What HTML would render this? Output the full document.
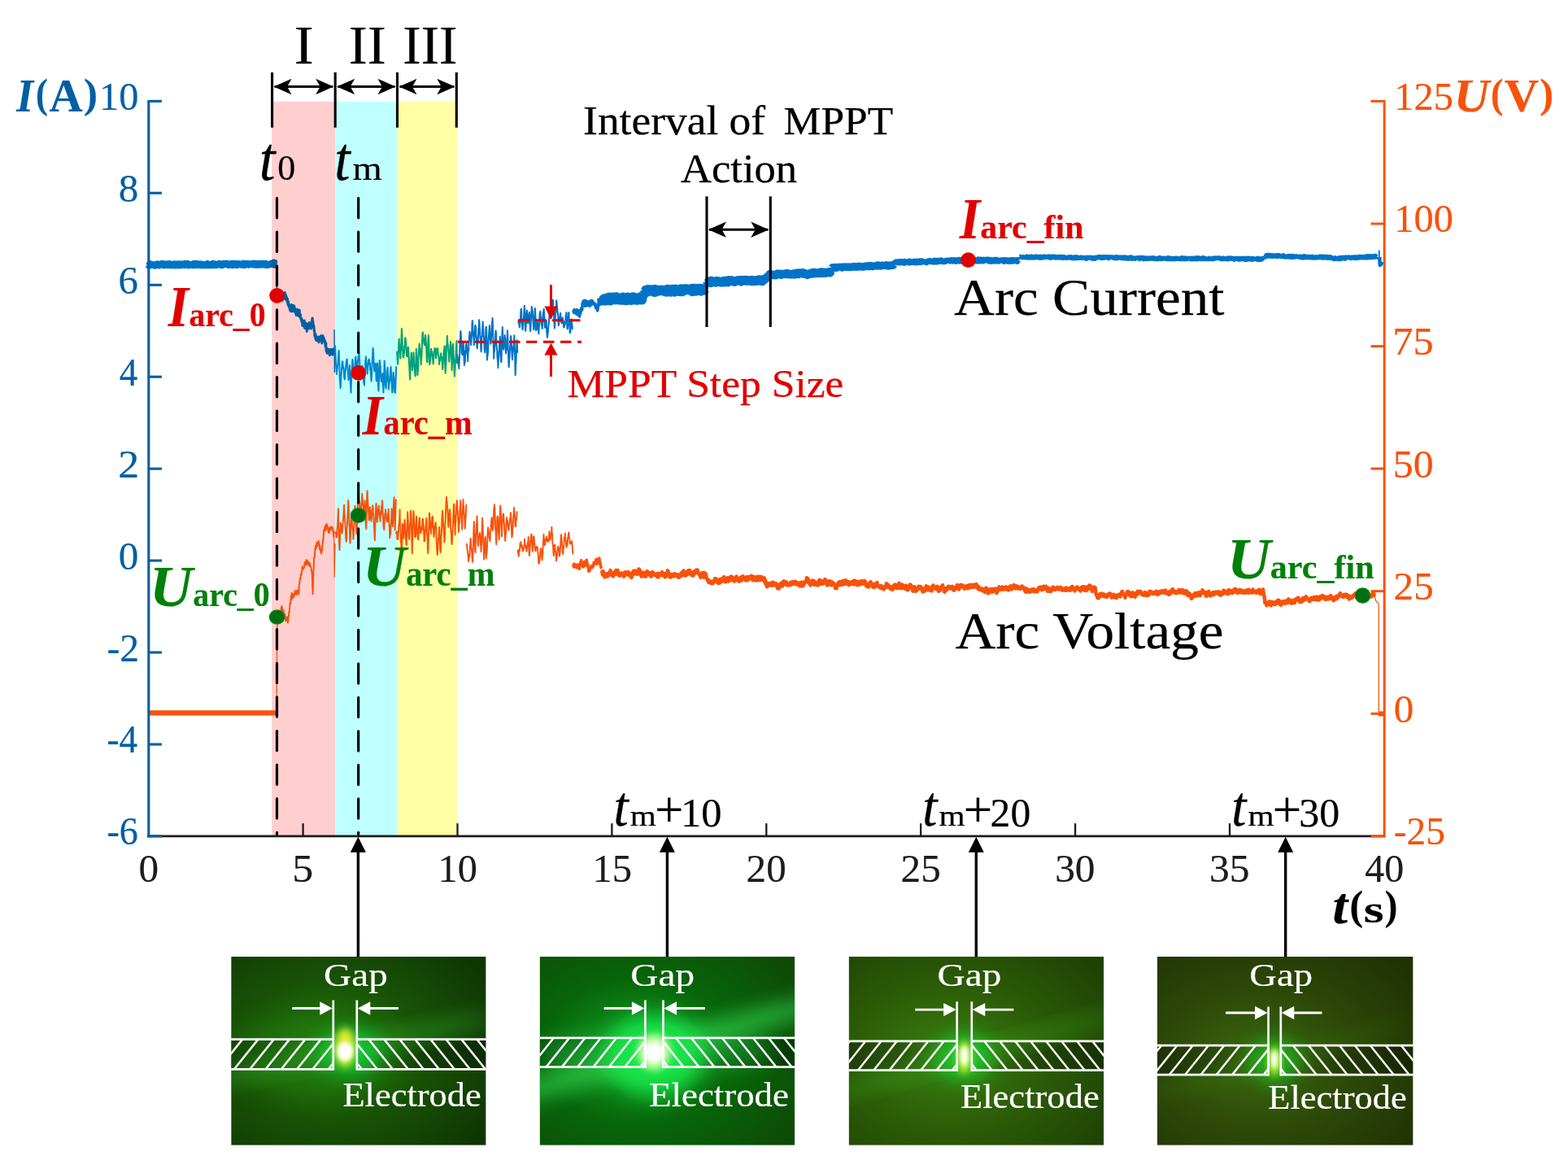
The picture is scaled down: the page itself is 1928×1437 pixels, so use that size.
<!DOCTYPE html>
<html lang="en"><head><meta charset="utf-8"><title>Arc current and arc voltage under MPPT action</title>
<style>
html,body{margin:0;padding:0;background:#fff;}
body{width:1928px;height:1437px;overflow:hidden;font-family:'Liberation Serif','DejaVu Serif',serif;}
svg{display:block;}
text{white-space:pre;}
</style></head><body>
<svg width="1928" height="1437" viewBox="0 0 1928 1437" font-family="'Liberation Serif','DejaVu Serif',serif" role="img" aria-label="Arc current and arc voltage versus time with MPPT action, and arc gap photographs">
<defs>
<marker id="ah" viewBox="0 0 22 20" refX="21" refY="10" markerWidth="22" markerHeight="20" markerUnits="userSpaceOnUse" orient="auto-start-reverse"><path d="M0,0.3 L22,10 L0,19.7 L5.5,10 Z" fill="#000"/></marker>
</defs>
<rect width="1928" height="1437" fill="#fff"/>
<g>
<rect x="334.2" y="124.8" width="78" height="903.2" fill="#ffcfcf"/>
<rect x="412.2" y="124.8" width="75.8" height="903.2" fill="#c0ffff"/>
<rect x="488" y="124.8" width="74" height="903.2" fill="#ffffa6"/>
</g>
<g id="traces">
<polyline points="182.0,325.8 182.5,326.7 183.0,326.3 183.5,324.5 184.0,324.8 184.5,326.6 185.0,323.8 185.5,326.4 186.0,326.3 186.5,325.3 187.0,324.8 187.5,324.7 188.0,324.6 188.5,325.2 189.0,325.4 189.5,325.5 190.0,327.0 190.5,326.3 191.0,325.8 191.5,326.9 192.0,324.4 192.5,324.3 193.0,325.7 193.5,323.9 194.0,323.9 194.5,325.4 195.0,325.2 195.5,326.7 196.0,325.8 196.5,325.4 197.0,325.3 197.5,324.5 198.0,323.8 198.5,324.4 199.0,325.9 199.5,324.4 200.0,324.9 200.5,323.7 201.0,326.4 201.5,324.2 202.0,324.6 202.5,326.5 203.0,325.3 203.5,326.4 204.0,325.8 204.5,326.1 205.0,324.0 205.5,325.4 206.0,325.3 206.5,326.5 207.0,324.9 207.5,325.6 208.0,323.9 208.5,324.9 209.0,324.7 209.5,324.2 210.0,326.3 210.5,324.9 211.0,326.8 211.5,325.6 212.0,325.6 212.5,325.7 213.0,325.8 213.5,324.2 214.0,325.1 214.5,324.4 215.0,325.0 215.5,324.0 216.0,326.8 216.5,324.4 217.0,325.8 217.5,324.6 218.0,326.5 218.5,325.8 219.0,324.1 219.5,326.4 220.0,326.7 220.5,326.5 221.0,325.5 221.5,324.1 222.0,324.3 222.5,326.6 223.0,325.4 223.5,324.2 224.0,326.5 224.5,325.7 225.0,325.5 225.5,324.8 226.0,324.9 226.5,324.4 227.0,323.7 227.5,326.4 228.0,325.1 228.5,325.4 229.0,324.6 229.5,326.0 230.0,323.7 230.5,324.8 231.0,323.7 231.5,324.0 232.0,326.7 232.5,325.7 233.0,325.0 233.5,325.3 234.0,326.4 234.5,324.7 235.0,325.5 235.5,325.8 236.0,324.7 236.5,325.2 237.0,326.0 237.5,326.5 238.0,324.1 238.5,326.6 239.0,323.6 239.5,326.0 240.0,326.2 240.5,324.0 241.0,324.9 241.5,326.2 242.0,323.6 242.5,325.6 243.0,326.1 243.5,325.2 244.0,325.9 244.5,324.3 245.0,324.2 245.5,324.7 246.0,324.1 246.5,324.7 247.0,326.6 247.5,325.4 248.0,324.6 248.5,324.4 249.0,326.6 249.5,325.0 250.0,326.7 250.5,325.2 251.0,325.2 251.5,326.4 252.0,325.9 252.5,325.4 253.0,324.9 253.5,326.3 254.0,324.8 254.5,326.5 255.0,323.7 255.5,324.9 256.0,325.2 256.5,326.5 257.0,324.3 257.5,326.1 258.0,325.7 258.5,325.8 259.0,325.5 259.5,326.6 260.0,324.6 260.5,324.8 261.0,324.1 261.5,323.6 262.0,324.2 262.5,326.4 263.0,326.2 263.5,323.8 264.0,325.4 264.5,325.0 265.0,325.4 265.5,325.6 266.0,324.5 266.5,326.5 267.0,325.0 267.5,325.5 268.0,325.5 268.5,324.0 269.0,323.7 269.5,324.8 270.0,325.9 270.5,326.1 271.0,325.8 271.5,323.8 272.0,326.4 272.5,326.0 273.0,326.3 273.5,325.1 274.0,326.4 274.5,323.6 275.0,323.5 275.5,323.5 276.0,324.2 276.5,324.2 277.0,324.0 277.5,325.2 278.0,323.5 278.5,325.3 279.0,323.9 279.5,325.6 280.0,323.5 280.5,324.4 281.0,326.4 281.5,325.1 282.0,326.0 282.5,325.5 283.0,325.4 283.5,324.0 284.0,325.2 284.5,323.5 285.0,326.0 285.5,326.5 286.0,326.1 286.5,323.6 287.0,324.5 287.5,324.4 288.0,323.7 288.5,325.4 289.0,325.9 289.5,324.4 290.0,326.1 290.5,325.9 291.0,323.8 291.5,325.8 292.0,326.2 292.5,324.0 293.0,325.2 293.5,325.4 294.0,325.3 294.5,323.7 295.0,325.5 295.5,325.4 296.0,326.0 296.5,325.9 297.0,324.4 297.5,325.7 298.0,326.1 298.5,326.2 299.0,323.9 299.5,323.4 300.0,325.4 300.5,324.0 301.0,325.1 301.5,326.4 302.0,324.5 302.5,324.1 303.0,324.8 303.5,325.4 304.0,323.6 304.5,324.5 305.0,323.7 305.5,325.4 306.0,326.0 306.5,324.5 307.0,324.5 307.5,325.0 308.0,324.0 308.5,324.1 309.0,324.4 309.5,324.8 310.0,323.6 310.5,325.7 311.0,325.1 311.5,324.2 312.0,323.5 312.5,325.7 313.0,323.7 313.5,323.7 314.0,323.7 314.5,323.5 315.0,326.2 315.5,324.1 316.0,324.3 316.5,325.9 317.0,325.3 317.5,323.9 318.0,324.7 318.5,326.1 319.0,324.5 319.5,325.5 320.0,323.6 320.5,325.6 321.0,325.7 321.5,325.9 322.0,325.4 322.5,324.4 323.0,323.5 323.5,324.9 324.0,325.7 324.5,323.8 325.0,324.1 325.5,325.0 326.0,325.6 326.5,326.1 327.0,323.6 327.5,323.8 328.0,325.8 328.5,325.3 329.0,325.5 329.5,326.4 330.0,326.2 330.5,325.9 331.0,325.7 331.5,324.5 332.0,325.3 332.5,323.8 333.0,325.6 333.5,325.6 334.0,325.5" fill="none" stroke="#0073c8" stroke-width="7.4" stroke-linejoin="round" stroke-linecap="butt" />
<polyline points="334.4,324.5 335.1,324.2 335.8,324.2 336.5,323.2 337.2,325.1 337.9,324.3 338.6,323.8 339.3,324.1" fill="none" stroke="#005fa2" stroke-width="9.4" stroke-linejoin="round" stroke-linecap="butt" />
<polyline points="339.6,324.0 340.2,345.0 340.6,363.0" fill="none" stroke="#005fa2" stroke-width="1.6" stroke-linejoin="round" stroke-linecap="butt" />
<polyline points="341.0,365.2 341.3,361.9 341.6,365.9 341.9,366.6 342.2,361.8 342.5,359.7 342.8,365.6 343.1,368.0 343.4,360.6 343.7,366.0 344.0,367.2 344.3,367.9 344.6,360.5 344.9,360.4 345.2,369.0 345.5,361.4 345.8,362.2 346.1,365.8 346.4,364.5 346.7,367.5 347.0,362.5 347.3,369.2 347.6,362.7 347.9,367.9 348.2,362.0 348.5,366.3 348.8,362.2 349.1,364.2 349.4,363.5 349.7,366.7 350.0,363.6 350.3,359.4 350.6,367.8 350.9,366.9 351.2,367.7 351.5,362.6 351.8,365.0 352.1,364.8 352.4,365.5 352.7,366.0 353.0,370.9 353.3,367.3 353.6,367.5 353.9,374.1 354.2,371.6 354.5,370.4 354.8,376.4 355.1,373.8 355.4,377.0 355.7,375.6 356.0,378.8 356.3,380.5 356.6,380.2 356.9,379.0 357.2,382.3 357.5,382.5 357.8,375.5 358.1,374.7 358.4,374.5 358.7,383.0 359.0,383.0 359.3,376.4 359.6,382.8 359.9,375.6 360.2,378.1 360.5,378.1 360.8,382.4 361.1,375.4 361.4,379.0 361.7,382.1 362.0,377.1 362.3,378.3 362.6,380.0 362.9,383.8 363.2,383.4 363.5,385.4 363.8,386.0 364.1,386.3 364.4,387.6 364.7,385.7 365.0,385.7 365.3,381.3 365.6,380.1 365.9,385.9 366.2,381.1 366.5,388.2 366.8,385.1 367.1,382.4 367.4,388.1 367.7,381.2 368.0,384.5 368.3,381.2 368.6,389.7 368.9,386.9 369.2,390.2 369.5,386.5 369.8,392.0 370.1,391.4 370.4,391.5 370.7,395.2 371.0,391.7 371.3,393.1 371.6,397.4 371.9,400.3 372.2,396.5 372.5,399.9 372.8,395.9 373.1,399.2 373.4,401.0 373.7,394.3 374.0,400.3 374.3,394.1 374.6,403.4 374.9,399.4 375.2,399.2 375.5,402.2 375.8,400.7 376.1,403.0 376.4,397.3 376.7,402.1 377.0,402.9 377.3,407.5 377.6,400.1 377.9,403.9 378.2,404.9 378.5,403.4 378.8,398.3 379.1,402.3 379.4,398.3 379.7,397.6 380.0,403.4 380.3,396.4 380.6,398.4 380.9,401.2 381.2,401.4 381.5,400.7 381.8,403.5 382.1,400.8 382.4,402.4 382.7,404.0 383.0,402.3 383.3,398.5 383.6,393.3 383.9,391.9 384.2,391.0 384.5,396.2 384.8,394.7 385.1,397.3 385.4,401.8 385.7,400.9 386.0,400.7 386.3,407.2 386.6,405.7 386.9,412.6 387.2,414.0 387.5,412.4 387.8,416.2 388.1,410.8 388.4,414.0 388.7,418.4 389.0,416.1 389.3,416.4 389.6,417.9 389.9,418.7 390.2,418.6 390.5,417.3 390.8,414.7 391.1,414.8 391.4,414.0 391.7,415.2 392.0,420.8 392.3,415.0 392.6,415.7 392.9,414.4 393.2,415.9 393.5,419.1 393.8,418.6 394.1,413.8 394.4,412.7 394.7,418.4 395.0,415.5 395.3,418.4 395.6,414.0 395.9,421.9 396.2,416.4 396.5,416.8 396.8,412.6 397.1,413.8 397.4,417.5 397.7,417.7 398.0,414.7 398.3,418.5 398.6,417.0 398.9,417.7 399.2,420.8 399.5,419.0 399.8,421.1 400.1,425.6 400.4,426.9 400.7,421.4 401.0,429.3 401.3,432.0 401.6,430.5 401.9,428.3 402.2,434.2 402.5,429.8 402.8,433.1 403.1,430.5 403.4,432.9 403.7,429.3 404.0,431.3 404.3,431.8 404.6,433.0 404.9,429.4 405.2,436.8 405.5,431.2 405.8,431.9 406.1,431.5 406.4,429.5 406.7,432.3 407.0,435.1 407.3,434.3 407.6,429.6 407.9,429.4 408.2,431.4 408.5,435.6 408.8,432.7 409.1,436.2 409.4,433.2 409.7,432.4 410.0,433.2 410.3,432.6 410.6,428.7 410.9,428.4 411.2,430.9 411.5,431.7" fill="none" stroke="#005fa2" stroke-width="3.0" stroke-linejoin="round" stroke-linecap="butt" />
<polyline points="411.0,405.0 411.4,458.0" fill="none" stroke="#005fa2" stroke-width="1.4" stroke-linejoin="round" stroke-linecap="butt" />
<polyline points="412.0,424.3 412.3,431.4 412.7,438.7 413.0,446.0 413.3,451.6 413.6,454.7 414.0,459.9 414.3,455.2 414.6,454.5 415.0,449.7 415.3,448.1 415.6,447.2 416.0,439.8 416.3,433.1 416.6,430.9 416.9,437.6 417.3,447.0 417.6,461.3 417.9,467.6 418.3,472.0 418.6,477.1 418.9,473.9 419.3,465.6 419.6,460.1 419.9,456.0 420.2,452.4 420.6,448.1 420.9,444.2 421.2,444.2 421.6,447.6 421.9,451.5 422.2,453.5 422.6,452.2 422.9,458.9 423.2,463.6 423.5,465.8 423.9,466.4 424.2,459.9 424.5,454.9 424.9,456.5 425.2,451.4 425.5,447.0 425.9,445.2 426.2,442.3 426.5,444.2 426.8,441.5 427.2,449.0 427.5,453.1 427.8,455.5 428.2,461.6 428.5,466.9 428.8,460.7 429.2,456.8 429.5,461.3 429.8,453.3 430.1,448.9 430.5,459.5 430.8,468.5 431.1,474.5 431.5,482.8 431.8,473.7 432.1,466.3 432.5,462.2 432.8,456.8 433.1,446.9 433.4,442.0 433.8,442.8 434.1,453.9 434.4,452.2 434.8,462.0 435.1,461.9 435.4,458.2 435.8,456.6 436.1,453.5 436.4,450.8 436.7,445.4 437.1,440.1 437.4,438.5 437.7,442.6 438.1,444.8 438.4,448.8 438.7,449.0 439.1,453.0 439.4,456.8 439.7,450.9 440.0,444.2 440.4,441.5 440.7,437.7 441.0,441.2 441.4,432.8 441.7,436.8 442.0,440.8 442.4,448.8 442.7,452.7 443.0,455.7 443.3,460.8 443.7,466.6 444.0,464.9 444.3,460.7 444.7,459.0 445.0,459.8 445.3,449.5 445.7,450.8 446.0,451.3 446.3,457.8 446.6,463.2 447.0,465.2 447.3,470.9 447.6,469.5 448.0,473.6 448.3,464.3 448.6,461.4 449.0,454.9 449.3,443.4 449.6,441.7 449.9,438.2 450.3,445.1 450.6,447.1 450.9,451.8 451.3,453.0 451.6,459.5 451.9,457.5 452.3,451.2 452.6,448.4 452.9,443.1 453.2,446.4 453.6,447.8 453.9,441.6 454.2,444.0 454.6,446.1 454.9,446.4 455.2,455.1 455.6,453.1 455.9,459.0 456.2,463.6 456.5,468.6 456.9,465.4 457.2,458.2 457.5,448.7 457.9,440.5 458.2,436.5 458.5,427.9 458.9,429.4 459.2,436.1 459.5,444.5 459.8,448.2 460.2,456.2 460.5,452.9 460.8,451.6 461.2,446.9 461.5,448.1 461.8,446.8 462.2,454.9 462.5,464.8 462.8,468.6 463.1,462.4 463.5,459.9 463.8,448.3 464.1,446.4 464.5,455.3 464.8,468.1 465.1,477.0 465.5,480.5 465.8,471.7 466.1,465.3 466.4,455.6 466.8,443.0 467.1,444.7 467.4,449.9 467.8,450.1 468.1,458.7 468.4,465.7 468.8,468.9 469.1,468.8 469.4,468.6 469.7,466.8 470.1,464.4 470.4,458.9 470.7,474.7 471.1,472.3 471.4,482.4 471.7,477.0 472.1,467.1 472.4,455.8 472.7,443.4 473.0,448.7 473.4,452.5 473.7,455.2 474.0,473.0 474.4,476.0 474.7,477.5 475.0,467.8 475.4,469.3 475.7,466.1 476.0,462.6 476.3,455.8 476.7,451.9 477.0,461.0 477.3,463.5 477.7,471.6 478.0,478.8 478.3,472.8 478.7,471.0 479.0,467.4 479.3,468.0 479.6,462.7 480.0,455.7 480.3,454.2 480.6,451.1 481.0,458.9 481.3,468.3 481.6,470.0 482.0,478.5 482.3,482.5 482.6,481.9 482.9,477.1 483.3,463.6 483.6,457.7 483.9,459.2 484.3,462.6 484.6,466.3 484.9,476.1 485.3,482.0 485.6,481.8 485.9,483.1 486.2,479.1 486.6,467.4 486.9,460.6 487.2,450.2" fill="none" stroke="#0088cc" stroke-width="2.0" stroke-linejoin="round" stroke-linecap="butt" />
<polyline points="488.0,431.7 488.3,434.9 488.7,443.0 489.0,447.7 489.3,446.8 489.6,438.3 490.0,430.2 490.3,421.9 490.6,416.4 491.0,422.4 491.3,423.6 491.6,433.0 492.0,433.6 492.3,440.6 492.6,434.9 492.9,427.1 493.3,424.7 493.6,412.2 493.9,403.9 494.3,411.4 494.6,418.6 494.9,430.3 495.3,432.0 495.6,439.5 495.9,439.2 496.2,438.6 496.6,435.8 496.9,434.8 497.2,425.9 497.6,425.4 497.9,421.4 498.2,415.2 498.6,415.6 498.9,419.7 499.2,419.8 499.5,430.9 499.9,435.4 500.2,438.0 500.5,436.3 500.9,438.1 501.2,430.9 501.5,428.1 501.9,426.6 502.2,428.9 502.5,438.2 502.8,442.3 503.2,449.1 503.5,455.4 503.8,461.9 504.2,466.4 504.5,457.4 504.8,450.0 505.2,442.9 505.5,437.3 505.8,433.5 506.1,439.5 506.5,445.5 506.8,449.4 507.1,455.3 507.5,450.8 507.8,450.0 508.1,441.8 508.5,433.3 508.8,437.2 509.1,447.1 509.4,447.9 509.8,451.8 510.1,457.4 510.4,462.0 510.8,462.5 511.1,449.7 511.4,444.9 511.8,428.8 512.1,433.0 512.4,436.6 512.7,450.2 513.1,452.9 513.4,461.0 513.7,458.2 514.1,452.8 514.4,441.5 514.7,437.1 515.1,428.6 515.4,425.8 515.7,422.4 516.0,425.7 516.4,428.7 516.7,433.1 517.0,435.9 517.4,442.4 517.7,448.2 518.0,442.0 518.4,438.1 518.7,429.5 519.0,423.7 519.3,412.7 519.7,408.6 520.0,408.8 520.3,414.9 520.7,416.0 521.0,417.9 521.3,421.8 521.7,423.3 522.0,423.4 522.3,424.6 522.6,418.3 523.0,411.8 523.3,413.1 523.6,419.6 524.0,420.6 524.3,427.4 524.6,438.6 525.0,444.5 525.3,445.2 525.6,437.4 525.9,431.8 526.3,425.1 526.6,415.6 526.9,412.0 527.3,419.5 527.6,430.2 527.9,445.3 528.3,448.1 528.6,446.6 528.9,445.2 529.2,442.4 529.6,436.6 529.9,434.0 530.2,428.7 530.6,434.6 530.9,434.0 531.2,431.9 531.6,436.3 531.9,439.7 532.2,441.2 532.5,446.2 532.9,447.3 533.2,440.6 533.5,437.9 533.9,431.7 534.2,431.7 534.5,428.2 534.9,430.1 535.2,428.5 535.5,428.2 535.8,435.9 536.2,440.5 536.5,435.0 536.8,433.5 537.2,432.2 537.5,431.4 537.8,427.9 538.2,428.7 538.5,435.1 538.8,434.9 539.1,437.6 539.5,438.3 539.8,442.3 540.1,448.0 540.5,442.5 540.8,444.1 541.1,443.9 541.5,439.7 541.8,439.2 542.1,434.3 542.4,437.7 542.8,438.5 543.1,440.6 543.4,440.2 543.8,445.6 544.1,453.9 544.4,452.4 544.8,445.6 545.1,443.9 545.4,435.8 545.7,432.7 546.1,429.1 546.4,426.0 546.7,425.5 547.1,442.0 547.4,454.0 547.7,458.7 548.1,450.6 548.4,446.6 548.7,436.6 549.0,425.0 549.4,424.2 549.7,414.8 550.0,412.8 550.4,423.1 550.7,423.3 551.0,425.9 551.4,432.3 551.7,434.2 552.0,439.4 552.3,444.8 552.7,437.3 553.0,432.2 553.3,431.7 553.7,424.8 554.0,419.8 554.3,421.9 554.7,429.1 555.0,438.7 555.3,443.1 555.6,455.1 556.0,445.7 556.3,439.0 556.6,428.4 557.0,422.7 557.3,427.0 557.6,437.0 558.0,440.3 558.3,449.8 558.6,456.9 558.9,462.6 559.3,456.1 559.6,453.2 559.9,443.6 560.3,441.8 560.6,435.6 560.9,428.0 561.3,421.0 561.6,419.0 561.9,447.1" fill="none" stroke="#00a27c" stroke-width="2.0" stroke-linejoin="round" stroke-linecap="butt" />
<polyline points="562.0,435.1 562.3,436.9 562.7,439.0 563.0,442.4 563.3,445.9 563.7,448.1 564.0,449.3 564.3,452.9 564.6,446.2 565.0,440.6 565.3,429.8 565.6,417.5 566.0,417.3 566.3,407.0 566.6,407.8 567.0,415.8 567.3,420.2 567.6,432.7 567.9,435.2 568.3,435.4 568.6,436.2 568.9,430.3 569.3,431.4 569.6,420.9 569.9,423.0 570.3,435.5 570.6,441.9 570.9,449.0 571.2,445.7 571.6,446.4 571.9,444.0 572.2,431.0 572.6,432.8 572.9,423.8 573.2,425.0 573.6,421.9 573.9,425.0 574.2,432.4 574.5,435.5 574.9,437.6 575.2,443.9 575.5,436.0 575.9,427.9 576.2,431.1 576.5,420.6 576.9,414.8 577.2,411.8 577.5,407.8 577.8,410.3 578.2,414.1 578.5,416.1 578.8,419.5 579.2,423.9 579.5,418.6 579.8,414.1 580.2,407.8 580.5,397.5 580.8,393.9 581.1,395.1 581.5,404.8 581.8,408.8 582.1,413.2 582.5,415.6 582.8,424.2 583.1,418.9 583.5,416.5 583.8,408.9 584.1,401.7 584.4,399.8 584.8,400.7 585.1,402.9 585.4,412.0 585.8,413.9 586.1,419.1 586.4,425.1 586.8,428.3 587.1,424.6 587.4,419.9 587.7,418.3 588.1,412.8 588.4,403.5 588.7,402.2 589.1,393.2 589.4,395.0 589.7,401.4 590.1,405.5 590.4,415.6 590.7,416.4 591.0,419.0 591.4,430.3 591.7,432.3 592.0,425.5 592.4,413.7 592.7,414.6 593.0,407.5 593.4,400.8 593.7,395.6 594.0,402.6 594.3,404.2 594.7,411.9 595.0,413.7 595.3,420.0 595.7,428.6 596.0,432.6 596.3,433.3 596.7,428.2 597.0,418.2 597.3,407.9 597.6,401.6 598.0,402.5 598.3,411.8 598.6,424.5 599.0,442.5 599.3,438.6 599.6,437.1 600.0,432.5 600.3,427.0 600.6,417.3 600.9,413.6 601.3,408.8 601.6,404.4 601.9,400.1 602.3,404.0 602.6,413.9 602.9,419.2 603.3,422.7 603.6,421.7 603.9,418.3 604.2,412.1 604.6,408.2 604.9,398.3 605.2,396.0 605.6,390.9 605.9,398.4 606.2,411.0 606.6,420.3 606.9,429.1 607.2,440.8 607.5,432.9 607.9,431.6 608.2,428.3 608.5,423.6 608.9,421.0 609.2,411.5 609.5,406.4 609.9,407.7 610.2,414.3 610.5,424.1 610.8,426.8 611.2,429.6 611.5,439.2 611.8,441.5 612.2,445.9 612.5,452.3 612.8,442.5 613.2,438.3 613.5,432.8 613.8,430.4 614.1,421.8 614.5,418.6 614.8,413.8 615.1,420.0 615.5,433.1 615.8,440.2 616.1,445.0 616.5,444.8 616.8,432.6 617.1,418.8 617.4,411.7 617.8,402.0 618.1,408.6 618.4,415.3 618.8,423.8 619.1,429.7 619.4,426.5 619.8,418.6 620.1,418.7 620.4,418.9 620.7,412.0 621.1,417.8 621.4,425.0 621.7,430.1 622.1,434.4 622.4,430.2 622.7,429.5 623.1,420.5 623.4,415.9 623.7,413.6 624.0,406.3 624.4,415.5 624.7,429.2 625.0,435.4 625.4,445.2 625.7,451.1 626.0,446.2 626.4,439.8 626.7,435.6 627.0,428.9 627.3,424.5 627.7,420.1 628.0,413.1 628.3,413.6 628.7,418.6 629.0,427.5 629.3,431.6 629.7,438.7 630.0,442.3 630.3,435.8 630.6,434.6 631.0,426.5 631.3,431.1 631.6,425.1 632.0,418.2 632.3,412.3 632.6,420.0 633.0,428.6 633.3,444.4 633.6,461.1 633.9,456.2 634.3,447.5 634.6,443.3 634.9,431.5 635.3,426.9 635.6,418.3 635.9,424.1 636.3,433.7" fill="none" stroke="#0073c8" stroke-width="2.0" stroke-linejoin="round" stroke-linecap="butt" />
<polyline points="637.0,394.0 637.3,394.3 637.7,397.5 638.0,397.6 638.3,396.3 638.7,401.7 639.0,402.4 639.3,398.6 639.6,395.8 640.0,392.4 640.3,386.6 640.6,380.4 641.0,379.6 641.3,390.4 641.6,394.5 642.0,398.6 642.3,402.9 642.6,405.2 642.9,401.3 643.3,396.7 643.6,392.0 643.9,393.8 644.3,385.9 644.6,380.2 644.9,375.9 645.3,385.1 645.6,396.0 645.9,404.2 646.2,406.6 646.6,400.6 646.9,393.4 647.2,385.3 647.6,383.7 647.9,381.5 648.2,391.1 648.6,390.1 648.9,396.8 649.2,397.3 649.5,392.6 649.9,387.9 650.2,386.3 650.5,385.9 650.9,383.9 651.2,386.9 651.5,396.4 651.9,403.6 652.2,407.1 652.5,400.6 652.8,394.2 653.2,389.9 653.5,384.7 653.8,377.1 654.2,379.1 654.5,381.2 654.8,382.7 655.2,387.3 655.5,394.6 655.8,397.9 656.1,404.1 656.5,405.0 656.8,401.9 657.1,396.1 657.5,388.9 657.8,379.1 658.1,383.7 658.5,391.4 658.8,396.3 659.1,406.3 659.4,405.8 659.8,401.2 660.1,404.3 660.4,397.9 660.8,396.1 661.1,397.5 661.4,399.3 661.8,404.3 662.1,406.1 662.4,410.2 662.7,403.6 663.1,398.8 663.4,392.6 663.7,385.5 664.1,383.4 664.4,382.8 664.7,389.0 665.1,389.7 665.4,395.8 665.7,396.6 666.0,399.5 666.4,401.1 666.7,404.0 667.0,400.1 667.4,395.3 667.7,386.8 668.0,384.0 668.4,382.9 668.7,380.1 669.0,384.8 669.3,388.9 669.7,392.5 670.0,402.8 670.3,401.7 670.7,399.4 671.0,399.8 671.3,398.3 671.7,393.7 672.0,402.7 672.3,406.9 672.6,411.4 673.0,414.8 673.3,410.6 673.6,410.5 674.0,405.2 674.3,401.2 674.6,399.4 675.0,395.2 675.3,390.7 675.6,387.4 675.9,391.2 676.3,389.7 676.6,389.5 676.9,389.0 677.3,391.1 677.6,389.2 677.9,388.0 678.3,384.8 678.6,376.7 678.9,377.5 679.2,375.5 679.6,371.4 679.9,368.8 680.2,378.3 680.6,379.5 680.9,383.7 681.2,389.2 681.6,396.7 681.9,403.4 682.2,399.7 682.5,393.7 682.9,386.8 683.2,383.8 683.5,379.3 683.9,376.7 684.2,369.4 684.5,371.7 684.9,376.6 685.2,378.8 685.5,383.7 685.8,384.7 686.2,387.3 686.5,392.6 686.8,399.9 687.2,398.4 687.5,393.6 687.8,395.1 688.2,390.3 688.5,392.2 688.8,388.4 689.1,384.7 689.5,390.5 689.8,391.4 690.1,395.2 690.5,396.6 690.8,397.3 691.1,394.0 691.5,391.3 691.8,390.4 692.1,395.9 692.4,393.8 692.8,394.9 693.1,400.6 693.4,402.5 693.8,401.9 694.1,398.8 694.4,398.7 694.8,398.7 695.1,395.2 695.4,395.8 695.7,387.5 696.1,389.1 696.4,384.0 696.7,392.9 697.1,395.3 697.4,402.6 697.7,404.4 698.1,401.4 698.4,396.2 698.7,391.4 699.0,384.8 699.4,384.3 699.7,391.3 700.0,396.0 700.4,400.2 700.7,408.8 701.0,409.1 701.4,407.7 701.7,399.9 702.0,394.6 702.3,393.9 702.7,392.7 703.0,397.1 703.3,398.3 703.7,403.2 704.0,404.6 704.3,404.6" fill="none" stroke="#0073c8" stroke-width="2.1" stroke-linejoin="round" stroke-linecap="butt" />
<polyline points="705.0,384.2 705.4,381.8 705.8,384.4 706.2,380.4 706.6,383.6 707.0,382.7 707.4,383.2 707.8,384.1 708.2,385.4 708.6,385.1 709.0,381.4 709.4,380.7 709.8,384.0 710.2,386.9 710.6,385.5 711.0,381.7 711.4,381.8 711.8,384.9 712.2,387.7 712.6,389.1 713.0,385.8 713.4,386.2 713.8,385.0 714.2,380.7 714.6,379.1 715.0,382.0 715.4,381.3 715.8,380.7 716.2,372.2 716.6,374.3 717.0,370.5 717.4,372.2 717.8,373.2 718.2,369.3 718.6,375.1 719.0,375.6 719.4,376.2 719.8,369.6 720.2,374.0 720.6,374.3 721.0,375.9 721.4,371.2 721.8,370.4 722.2,375.2 722.6,371.7 723.0,371.0 723.4,371.5 723.8,375.3 724.2,374.6 724.6,376.1 725.0,376.3 725.4,370.1 725.8,375.7 726.2,374.8 726.6,374.8 727.0,373.4 727.4,370.4 727.8,369.3 728.2,373.9 728.6,370.6 729.0,371.0 729.4,372.5 729.8,372.5 730.2,372.7 730.6,372.7 731.0,372.8 731.4,375.7 731.8,374.1 732.2,373.8 732.6,378.8 733.0,378.9 733.4,378.8 733.8,375.9 734.2,375.7 734.6,381.9 735.0,381.2 735.4,375.3 735.8,376.5 736.2,370.9 736.6,372.0 737.0,372.6 737.4,369.1 737.8,372.4 738.2,374.2 738.6,370.1 739.0,374.7" fill="none" stroke="#0073c8" stroke-width="3.5" stroke-linejoin="round" stroke-linecap="butt" />
<polyline points="739.5,365.6 740.2,368.0 740.9,369.4 741.6,369.1 742.3,367.8 743.0,367.2 743.7,369.5 744.4,368.1 745.1,369.4 745.8,368.2 746.5,368.2 747.2,368.2 747.9,365.7 748.6,366.2 749.3,365.4 750.0,369.2 750.7,369.5 751.4,367.7 752.1,365.7 752.8,365.6 753.5,367.0 754.2,366.7 754.9,365.9 755.6,365.4 756.3,367.8 757.0,368.5 757.7,365.2 758.4,366.3 759.1,366.2 759.8,367.3 760.5,367.6 761.2,366.7 761.9,368.7 762.6,366.6 763.3,366.2 764.0,368.2 764.7,368.5 765.4,368.7 766.1,365.5 766.8,365.6 767.5,366.8 768.2,369.0 768.9,367.5 769.6,367.5 770.3,366.2 771.0,369.1 771.7,365.5 772.4,367.1 773.1,367.6 773.8,368.2 774.5,368.2 775.2,366.3 775.9,365.8 776.6,368.9 777.3,367.0 778.0,365.8 778.7,365.2 779.4,368.1 780.1,368.3 780.8,367.0 781.5,366.2 782.2,367.4 782.9,368.8 783.6,367.0 784.3,367.9 785.0,368.3 785.7,367.8 786.4,366.5 787.1,365.2 787.8,367.4 788.5,368.0 789.2,368.6 789.9,365.0 790.6,364.8 791.3,367.1 792.0,367.9" fill="none" stroke="#0073c8" stroke-width="12" stroke-linejoin="round" stroke-linecap="butt" />
<polyline points="792.5,355.8 793.2,357.9 793.9,356.5 794.6,359.5 795.3,356.9 796.0,355.8 796.7,358.6 797.4,356.6 798.1,357.1 798.8,355.9 799.5,356.7 800.2,355.9 800.9,356.4 801.6,357.7 802.3,356.6 803.0,358.0 803.7,359.0 804.4,357.6 805.1,355.4 805.8,359.2 806.5,356.1 807.2,356.7 807.9,357.4 808.6,357.8 809.3,356.6 810.0,357.0 810.7,357.8 811.4,357.1 812.1,356.4 812.8,356.9 813.5,356.8 814.2,356.4 814.9,357.6 815.6,357.2 816.3,356.8 817.0,358.0 817.7,358.4 818.4,357.8 819.1,356.5 819.8,358.9 820.5,355.5 821.2,358.3 821.9,356.8 822.6,356.7 823.3,358.5 824.0,357.7 824.7,359.0 825.4,358.6 826.1,355.5 826.8,357.1 827.5,358.1 828.2,355.4 828.9,357.2 829.6,359.0 830.3,355.9 831.0,355.4 831.7,356.1 832.4,356.3 833.1,356.1 833.8,356.6 834.5,358.2 835.2,356.9 835.9,357.2 836.6,355.3 837.3,355.1 838.0,358.6 838.7,356.2 839.4,358.5 840.1,356.1 840.8,357.3 841.5,357.3 842.2,355.0 842.9,354.9 843.6,356.4 844.3,355.1 845.0,355.8 845.7,355.4 846.4,355.8 847.1,356.4 847.8,355.8 848.5,355.9 849.2,356.4 849.9,357.2 850.6,354.6 851.3,358.4 852.0,356.1 852.7,358.1 853.4,354.4 854.1,354.6 854.8,354.7 855.5,358.0 856.2,356.0 856.9,357.7 857.6,357.1 858.3,354.6 859.0,355.7 859.7,355.5 860.4,356.0 861.1,357.2 861.8,354.5 862.5,357.9 863.2,356.0 863.9,355.6 864.6,356.9 865.3,355.2 866.0,356.9 866.7,355.7 867.4,355.9" fill="none" stroke="#0073c8" stroke-width="11.5" stroke-linejoin="round" stroke-linecap="butt" />
<polyline points="868.5,345.5 869.2,345.5 869.9,347.6 870.6,346.7 871.3,346.2 872.0,347.3 872.7,347.7 873.4,345.3 874.1,347.9 874.8,344.8 875.5,346.7 876.2,345.5 876.9,345.5 877.6,346.2 878.3,346.6 879.0,346.0 879.7,346.9 880.4,347.6 881.1,345.1 881.8,345.3 882.5,346.5 883.2,345.8 883.9,345.5 884.6,346.1 885.3,346.7 886.0,347.3 886.7,347.4 887.4,347.0 888.1,345.5 888.8,347.2 889.5,346.6 890.2,344.9 890.9,347.3 891.6,345.0 892.3,346.4 893.0,346.4 893.7,347.1 894.4,346.3 895.1,347.3 895.8,344.3 896.5,344.2 897.2,344.7 897.9,345.9 898.6,345.4 899.3,344.3 900.0,344.7 900.7,345.9 901.4,345.3 902.1,346.4 902.8,345.4 903.5,346.7 904.2,346.3 904.9,345.5 905.6,345.0 906.3,344.5 907.0,344.8 907.7,344.9 908.4,344.9 909.1,344.3 909.8,345.3 910.5,344.1 911.2,346.5 911.9,345.4 912.6,344.0 913.3,344.7 914.0,344.4 914.7,344.1 915.4,345.1 916.1,344.2 916.8,344.0 917.5,345.8 918.2,344.9 918.9,345.6 919.6,345.0 920.3,345.1 921.0,344.4 921.7,344.8 922.4,344.9 923.1,344.5 923.8,346.0 924.5,344.1 925.2,344.0 925.9,344.4 926.6,345.8 927.3,346.0 928.0,345.0 928.7,344.4 929.4,345.3 930.1,345.8 930.8,343.9 931.5,345.3 932.2,345.4 932.9,344.3 933.6,343.5 934.3,345.0 935.0,343.7 935.7,344.2 936.4,344.7 937.1,346.1 937.8,343.4 938.5,343.2 939.2,344.6 939.9,345.9" fill="none" stroke="#0073c8" stroke-width="10.5" stroke-linejoin="round" stroke-linecap="butt" />
<polyline points="940.0,343.2 940.7,344.1 941.4,341.7 942.1,342.4 942.8,340.4 943.5,341.2 944.2,339.6 944.9,339.6 945.6,337.8 946.3,336.8 947.0,337.1 947.7,337.3 948.4,337.0 949.1,337.0 949.8,338.0 950.5,337.6 951.2,338.7 951.9,337.7 952.6,337.8 953.3,338.3 954.0,338.6 954.7,337.8 955.4,336.3 956.1,337.4 956.8,336.2 957.5,337.8 958.2,336.2 958.9,337.5 959.6,336.4 960.3,338.3 961.0,336.2 961.7,337.7 962.4,337.8 963.1,336.6 963.8,337.5 964.5,336.7 965.2,336.5 965.9,336.4 966.6,335.7 967.3,337.5 968.0,335.8 968.7,336.1 969.4,335.8 970.1,337.8 970.8,337.0 971.5,336.7 972.2,337.0 972.9,337.6 973.6,337.1 974.3,336.8 975.0,336.2 975.7,336.7 976.4,338.0 977.1,336.8 977.8,336.5 978.5,337.6 979.2,335.2 979.9,335.2 980.6,337.2 981.3,337.6 982.0,335.1 982.7,335.0 983.4,334.9 984.1,336.5 984.8,335.2 985.5,336.4 986.2,336.6 986.9,334.8 987.6,337.1 988.3,335.4 989.0,336.2 989.7,335.6 990.4,336.2 991.1,337.4 991.8,337.3 992.5,338.4 993.2,337.4 993.9,337.2 994.6,336.1 995.3,336.1 996.0,336.6 996.7,337.3 997.4,335.1 998.1,336.9 998.8,336.2 999.5,334.7 1000.2,334.4 1000.9,336.8 1001.6,334.9 1002.3,334.5 1003.0,336.0 1003.7,336.1 1004.4,336.6 1005.1,335.5 1005.8,334.9 1006.5,334.9 1007.2,334.5 1007.9,335.7 1008.6,336.5 1009.3,334.1 1010.0,334.9 1010.7,334.7 1011.4,333.9 1012.1,335.3 1012.8,336.4 1013.5,334.4 1014.2,335.6 1014.9,336.0 1015.6,334.2 1016.3,336.0 1017.0,335.5 1017.7,335.2 1018.4,333.9 1019.1,334.0 1019.8,333.5 1020.5,335.7 1021.2,335.4 1021.9,333.3" fill="none" stroke="#0073c8" stroke-width="9.5" stroke-linejoin="round" stroke-linecap="butt" />
<polyline points="1022.5,329.1 1023.2,328.3 1023.9,329.6 1024.6,329.1 1025.3,330.0 1026.0,329.4 1026.7,327.9 1027.4,328.5 1028.1,329.0 1028.8,329.7 1029.5,328.4 1030.2,328.0 1030.9,328.2 1031.6,328.0 1032.3,327.8 1033.0,328.2 1033.7,328.0 1034.4,328.6 1035.1,329.5 1035.8,329.6 1036.5,327.6 1037.2,328.6 1037.9,328.8 1038.6,327.5 1039.3,328.4 1040.0,327.6 1040.7,328.0 1041.4,327.8 1042.1,329.0 1042.8,327.6 1043.5,328.3 1044.2,328.4 1044.9,327.7 1045.6,329.1 1046.3,327.7 1047.0,327.6 1047.7,328.5 1048.4,328.0 1049.1,328.5 1049.8,327.1 1050.5,327.1 1051.2,328.5 1051.9,327.6 1052.6,328.7 1053.3,327.2 1054.0,327.2 1054.7,328.6 1055.4,327.4 1056.1,326.8 1056.8,327.0 1057.5,328.3 1058.2,327.1 1058.9,327.7 1059.6,328.4 1060.3,327.8 1061.0,328.1 1061.7,328.6 1062.4,327.0 1063.1,328.3 1063.8,327.5 1064.5,326.7 1065.2,326.5 1065.9,326.9 1066.6,326.4 1067.3,327.9 1068.0,327.4 1068.7,326.1 1069.4,328.1 1070.1,327.4 1070.8,327.0 1071.5,326.2 1072.2,327.0 1072.9,328.1 1073.6,327.2 1074.3,326.9 1075.0,327.2 1075.7,327.1 1076.4,327.2 1077.1,326.2 1077.8,326.0 1078.5,325.7 1079.2,327.6 1079.9,325.6 1080.6,326.2 1081.3,326.9 1082.0,326.7 1082.7,327.6 1083.4,326.0 1084.1,325.7 1084.8,325.8 1085.5,326.6 1086.2,326.0 1086.9,326.4 1087.6,326.9 1088.3,326.0 1089.0,326.8 1089.7,325.2 1090.4,326.5 1091.1,327.3 1091.8,327.4 1092.5,326.5 1093.2,327.4 1093.9,325.6 1094.6,325.7 1095.3,326.1 1096.0,326.2 1096.7,326.9 1097.4,326.0 1098.1,325.0 1098.8,326.5 1099.5,325.4" fill="none" stroke="#0073c8" stroke-width="8.5" stroke-linejoin="round" stroke-linecap="butt" />
<polyline points="1100.5,323.6 1101.2,322.1 1101.9,322.3 1102.6,321.9 1103.3,322.3 1104.0,322.9 1104.7,322.2 1105.4,321.7 1106.1,322.8 1106.8,323.1 1107.5,321.7 1108.2,322.4 1108.9,321.6 1109.6,321.5 1110.3,322.2 1111.0,322.0 1111.7,323.3 1112.4,321.4 1113.1,322.7 1113.8,322.9 1114.5,322.2 1115.2,322.3 1115.9,321.8 1116.6,321.8 1117.3,321.3 1118.0,323.1 1118.7,321.2 1119.4,321.4 1120.1,322.7 1120.8,322.1 1121.5,322.2 1122.2,321.7 1122.9,321.4 1123.6,322.7 1124.3,321.2 1125.0,321.6 1125.7,322.6 1126.4,321.5 1127.1,323.0 1127.8,321.2 1128.5,322.0 1129.2,322.0 1129.9,321.9 1130.6,322.5 1131.3,320.8 1132.0,321.9 1132.7,322.4 1133.4,320.8 1134.1,321.9 1134.8,321.6 1135.5,321.5 1136.2,321.8 1136.9,321.9 1137.6,322.1 1138.3,322.5 1139.0,321.9 1139.7,322.7 1140.4,321.9 1141.1,321.0 1141.8,320.7 1142.5,320.5 1143.2,321.0 1143.9,320.6 1144.6,321.8 1145.3,321.8 1146.0,321.6 1146.7,321.1 1147.4,321.3 1148.1,320.8 1148.8,322.2 1149.5,320.2 1150.2,320.9 1150.9,321.4 1151.6,320.5 1152.3,322.0 1153.0,321.1 1153.7,320.9 1154.4,320.2 1155.1,320.6 1155.8,321.3 1156.5,320.6 1157.2,320.0 1157.9,321.2 1158.6,320.6 1159.3,321.7 1160.0,321.4 1160.7,321.4 1161.4,321.8 1162.1,321.6 1162.8,320.5 1163.5,321.0 1164.2,320.3 1164.9,320.1 1165.6,320.1 1166.3,319.9 1167.0,320.1 1167.7,320.1 1168.4,321.1 1169.1,320.1 1169.8,319.6 1170.5,320.4 1171.2,319.9 1171.9,321.0 1172.6,319.9 1173.3,320.6 1174.0,319.8 1174.7,320.4 1175.4,321.3 1176.1,320.0 1176.8,320.5 1177.5,320.3 1178.2,319.4 1178.9,319.3 1179.6,321.1 1180.3,320.0 1181.0,320.7 1181.7,320.1 1182.4,321.0 1183.1,319.5 1183.8,320.2 1184.5,320.3 1185.2,320.8 1185.9,319.1 1186.6,319.8 1187.3,320.0 1188.0,320.3 1188.7,319.3 1189.4,320.1 1190.1,320.4 1190.8,320.5 1191.5,319.4 1192.2,319.9 1192.9,319.6 1193.6,319.8 1194.3,319.7 1195.0,321.0 1195.7,319.0 1196.4,321.0 1197.1,319.0 1197.8,319.1 1198.5,319.4 1199.2,319.6 1199.9,320.9 1200.6,320.8 1201.3,321.0 1202.0,319.9 1202.7,319.0 1203.4,320.4 1204.1,321.0 1204.8,319.3 1205.5,320.8 1206.2,319.0 1206.9,320.6 1207.6,320.1 1208.3,321.0 1209.0,321.0 1209.7,319.2 1210.4,320.2 1211.1,319.6 1211.8,320.0 1212.5,319.2 1213.2,319.9 1213.9,320.0 1214.6,319.1 1215.3,320.1 1216.0,321.1 1216.7,319.2 1217.4,321.2 1218.1,320.2 1218.8,319.6 1219.5,321.3 1220.2,320.2 1220.9,320.1 1221.6,320.0 1222.3,321.1 1223.0,319.4 1223.7,319.6 1224.4,319.8 1225.1,319.3 1225.8,321.0 1226.5,320.3 1227.2,320.5 1227.9,321.1 1228.6,320.3 1229.3,319.8 1230.0,320.4 1230.7,320.3 1231.4,319.9 1232.1,319.7 1232.8,320.0 1233.5,320.9 1234.2,319.6 1234.9,321.4 1235.6,319.8 1236.3,319.9 1237.0,319.5 1237.7,320.1 1238.4,320.1 1239.1,320.8 1239.8,321.3 1240.5,319.8 1241.2,321.1 1241.9,320.0 1242.6,320.2 1243.3,319.6 1244.0,321.3 1244.7,320.2 1245.4,320.9 1246.1,319.4 1246.8,320.9 1247.5,319.9 1248.2,320.4 1248.9,320.8 1249.6,319.7 1250.3,320.5 1251.0,321.2 1251.7,319.7 1252.4,320.4" fill="none" stroke="#0073c8" stroke-width="7" stroke-linejoin="round" stroke-linecap="butt" />
<polyline points="1253.5,315.4 1254.2,315.3 1254.9,316.0 1255.6,315.9 1256.3,316.3 1257.0,316.7 1257.7,316.4 1258.4,315.7 1259.1,316.0 1259.8,316.4 1260.5,316.7 1261.2,316.4 1261.9,316.0 1262.6,315.3 1263.3,316.8 1264.0,315.6 1264.7,315.9 1265.4,316.8 1266.1,315.5 1266.8,316.9 1267.5,315.5 1268.2,315.2 1268.9,316.1 1269.6,316.7 1270.3,315.9 1271.0,316.8 1271.7,315.9 1272.4,316.7 1273.1,315.3 1273.8,315.7 1274.5,315.3 1275.2,316.6 1275.9,316.0 1276.6,316.4 1277.3,315.6 1278.0,316.6 1278.7,317.1 1279.4,315.3 1280.1,315.8 1280.8,316.9 1281.5,316.8 1282.2,316.9 1282.9,315.6 1283.6,316.3 1284.3,315.3 1285.0,316.0 1285.7,316.3 1286.4,315.7 1287.1,316.0 1287.8,315.9 1288.5,315.3 1289.2,315.3 1289.9,316.7 1290.6,315.2 1291.3,317.1 1292.0,317.0 1292.7,317.1 1293.4,316.7 1294.1,315.2 1294.8,315.4 1295.5,315.8 1296.2,315.5 1296.9,315.3 1297.6,317.0 1298.3,317.0 1299.0,316.7 1299.7,315.7 1300.4,316.9 1301.1,316.9 1301.8,315.9 1302.5,315.5 1303.2,315.6 1303.9,316.1 1304.6,317.0 1305.3,315.5 1306.0,316.2 1306.7,316.1 1307.4,317.2 1308.1,315.7 1308.8,316.8 1309.5,316.1 1310.2,316.8 1310.9,317.2 1311.6,317.2 1312.3,317.2 1313.0,316.2 1313.7,316.1 1314.4,315.9 1315.1,316.1 1315.8,315.9 1316.5,317.2 1317.2,315.8 1317.9,316.1 1318.6,317.3 1319.3,317.3 1320.0,317.7 1320.7,316.6 1321.4,315.9 1322.1,317.5 1322.8,316.4 1323.5,317.4 1324.2,315.9 1324.9,316.0 1325.6,317.1 1326.3,317.3 1327.0,317.1 1327.7,317.1 1328.4,317.2 1329.1,316.3 1329.8,316.2 1330.5,316.8 1331.2,317.2 1331.9,316.6 1332.6,316.5 1333.3,317.1 1334.0,317.0 1334.7,316.7 1335.4,318.1 1336.1,318.1 1336.8,316.4 1337.5,317.2 1338.2,316.8 1338.9,317.0 1339.6,316.4 1340.3,316.5 1341.0,316.5 1341.7,316.7 1342.4,317.7 1343.1,316.6 1343.8,318.2 1344.5,318.1 1345.2,317.0 1345.9,317.7 1346.6,318.1 1347.3,316.3 1348.0,317.1 1348.7,316.7 1349.4,316.3 1350.1,316.1 1350.8,315.6 1351.5,316.6 1352.2,315.6 1352.9,316.1 1353.6,317.1 1354.3,316.0 1355.0,315.9 1355.7,317.2 1356.4,316.5 1357.1,316.5 1357.8,315.8 1358.5,316.7 1359.2,316.2 1359.9,316.5 1360.6,316.2 1361.3,315.6 1362.0,317.2 1362.7,316.9 1363.4,317.4 1364.1,316.1 1364.8,316.1 1365.5,315.8 1366.2,316.2 1366.9,316.3 1367.6,316.0 1368.3,316.2 1369.0,316.2 1369.7,317.4 1370.4,316.6 1371.1,317.4 1371.8,315.8 1372.5,316.1 1373.2,317.7 1373.9,315.9 1374.6,316.0 1375.3,316.9 1376.0,316.4 1376.7,316.3 1377.4,317.1 1378.1,317.1 1378.8,316.3 1379.5,317.0 1380.2,316.9 1380.9,317.7 1381.6,316.1 1382.3,316.5 1383.0,317.2 1383.7,316.1 1384.4,317.8 1385.1,318.0 1385.8,316.8 1386.5,317.7 1387.2,316.7 1387.9,318.1 1388.6,316.6 1389.3,316.2 1390.0,316.4 1390.7,317.2 1391.4,316.3 1392.1,318.2 1392.8,317.6 1393.5,317.5 1394.2,317.6 1394.9,317.2 1395.6,318.2 1396.3,317.8 1397.0,317.3 1397.7,317.0 1398.4,316.7 1399.1,317.1 1399.8,317.2 1400.5,316.7 1401.2,318.4 1401.9,317.0 1402.6,317.6 1403.3,316.6 1404.0,317.6 1404.7,317.8 1405.4,316.7 1406.1,318.5 1406.8,316.9 1407.5,317.1 1408.2,318.0 1408.9,317.2 1409.6,318.3 1410.3,317.0 1411.0,317.2 1411.7,317.9 1412.4,318.3 1413.1,318.3 1413.8,317.1 1414.5,317.6 1415.2,317.4 1415.9,317.9 1416.6,317.0 1417.3,318.2 1418.0,318.0 1418.7,316.9 1419.4,317.2 1420.1,317.2 1420.8,318.4 1421.5,317.5 1422.2,317.8 1422.9,318.4 1423.6,317.4 1424.3,318.5 1425.0,317.2 1425.7,316.6 1426.4,316.8 1427.1,318.0 1427.8,317.4 1428.5,318.3 1429.2,317.7 1429.9,318.0 1430.6,317.3 1431.3,317.8 1432.0,318.0 1432.7,317.4 1433.4,317.6 1434.1,318.3 1434.8,318.5 1435.5,317.3 1436.2,316.8 1436.9,318.3 1437.6,317.5 1438.3,318.6 1439.0,318.2 1439.7,317.4 1440.4,318.4 1441.1,317.7 1441.8,318.1 1442.5,318.4 1443.2,317.8 1443.9,318.6 1444.6,317.5 1445.3,317.4 1446.0,318.0 1446.7,317.5 1447.4,318.1 1448.1,317.7 1448.8,318.2 1449.5,318.3 1450.2,317.8 1450.9,318.5 1451.6,318.3 1452.3,318.4 1453.0,316.7 1453.7,316.7 1454.4,318.0 1455.1,317.4 1455.8,318.5 1456.5,317.5 1457.2,318.2 1457.9,317.2 1458.6,318.0 1459.3,318.5 1460.0,318.4 1460.7,317.5 1461.4,317.7 1462.1,317.8 1462.8,317.4 1463.5,317.7 1464.2,318.7 1464.9,318.5 1465.6,317.4 1466.3,318.1 1467.0,318.6 1467.7,317.5 1468.4,318.5 1469.1,318.4 1469.8,318.5 1470.5,316.9 1471.2,318.6 1471.9,318.7 1472.6,317.3 1473.3,318.0 1474.0,317.0 1474.7,318.0 1475.4,318.2 1476.1,318.3 1476.8,318.5 1477.5,317.4 1478.2,317.0 1478.9,318.4 1479.6,316.8 1480.3,317.3 1481.0,317.3 1481.7,318.4 1482.4,317.7 1483.1,318.5 1483.8,318.2 1484.5,318.5 1485.2,318.4 1485.9,318.6 1486.6,317.4 1487.3,317.6 1488.0,318.1 1488.7,318.0 1489.4,318.4 1490.1,318.5 1490.8,317.5 1491.5,317.1 1492.2,318.4 1492.9,318.3 1493.6,317.5 1494.3,317.0 1495.0,317.0 1495.7,317.4 1496.4,317.5 1497.1,317.4 1497.8,317.0 1498.5,317.3 1499.2,317.7 1499.9,317.1 1500.6,317.4 1501.3,317.8 1502.0,318.7 1502.7,318.7 1503.4,317.8 1504.1,317.2 1504.8,317.5 1505.5,318.4 1506.2,317.8 1506.9,318.2 1507.6,318.5 1508.3,318.3 1509.0,318.8 1509.7,317.2 1510.4,317.6 1511.1,317.1 1511.8,318.1 1512.5,318.3 1513.2,317.6 1513.9,317.2 1514.6,318.0 1515.3,317.4 1516.0,317.5 1516.7,317.9 1517.4,319.0 1518.1,317.8 1518.8,318.5 1519.5,317.9 1520.2,317.9 1520.9,317.4 1521.6,317.5 1522.3,318.7 1523.0,318.0 1523.7,317.7 1524.4,319.1 1525.1,318.9 1525.8,317.7 1526.5,318.0 1527.2,318.3 1527.9,317.5 1528.6,318.0 1529.3,317.8 1530.0,318.8 1530.7,317.4 1531.4,319.2 1532.1,317.7 1532.8,317.9 1533.5,317.4 1534.2,319.1 1534.9,318.9 1535.6,317.4 1536.3,318.3 1537.0,318.0 1537.7,318.5 1538.4,317.9 1539.1,319.2 1539.8,317.7 1540.5,318.9 1541.2,317.8 1541.9,318.6 1542.6,318.2 1543.3,318.4 1544.0,318.4 1544.7,318.6 1545.4,317.5 1546.1,317.4 1546.8,319.3 1547.5,317.8 1548.2,318.1 1548.9,317.8 1549.6,318.6 1550.3,319.3 1551.0,318.2 1551.7,318.0 1552.4,318.1 1553.1,317.4 1553.8,317.6 1554.5,317.5" fill="none" stroke="#0073c8" stroke-width="5.6" stroke-linejoin="round" stroke-linecap="butt" />
<polyline points="1555.5,314.6 1556.2,315.8 1556.9,314.0 1557.6,314.7 1558.3,313.9 1559.0,313.5 1559.7,314.9 1560.4,313.5 1561.1,313.5 1561.8,314.9 1562.5,313.8 1563.2,313.7 1563.9,315.2 1564.6,313.8 1565.3,315.1 1566.0,314.1 1566.7,314.6 1567.4,314.1 1568.1,314.2 1568.8,315.4 1569.5,315.4 1570.2,314.0 1570.9,315.1 1571.6,313.9 1572.3,314.3 1573.0,313.9 1573.7,315.0 1574.4,315.2 1575.1,315.3 1575.8,315.4 1576.5,314.6 1577.2,314.2 1577.9,313.9 1578.6,314.8 1579.3,315.8 1580.0,314.9 1580.7,315.3 1581.4,315.9 1582.1,315.8 1582.8,315.6 1583.5,315.3 1584.2,314.6 1584.9,315.7 1585.6,315.1 1586.3,315.7 1587.0,314.7 1587.7,316.2 1588.4,314.7 1589.1,315.9 1589.8,316.2 1590.5,314.7 1591.2,316.2 1591.9,315.8 1592.6,315.7 1593.3,315.0 1594.0,315.2 1594.7,315.1 1595.4,315.5 1596.1,315.9 1596.8,316.1 1597.5,316.1 1598.2,315.4 1598.9,315.4 1599.6,316.3 1600.3,316.8 1601.0,315.3 1601.7,315.6 1602.4,315.4 1603.1,316.8 1603.8,314.9 1604.5,316.6 1605.2,316.4 1605.9,315.5 1606.6,316.2 1607.3,315.6 1608.0,316.2 1608.7,315.7 1609.4,316.7 1610.1,315.8 1610.8,316.5 1611.5,316.1 1612.2,315.7 1612.9,316.9 1613.6,315.3 1614.3,316.8 1615.0,316.9 1615.7,316.7 1616.4,316.2 1617.1,316.2 1617.8,316.9 1618.5,315.9 1619.2,316.7 1619.9,316.6 1620.6,316.7 1621.3,315.9 1622.0,316.3 1622.7,315.2 1623.4,315.2 1624.1,315.3 1624.8,316.5 1625.5,315.8 1626.2,316.9 1626.9,315.3 1627.6,315.5 1628.3,316.8 1629.0,316.0 1629.7,315.6 1630.4,316.7 1631.1,315.6 1631.8,317.1 1632.5,315.7 1633.2,316.9 1633.9,316.1 1634.6,317.1 1635.3,315.8 1636.0,317.1 1636.7,316.1 1637.4,316.7 1638.1,317.4 1638.8,317.6 1639.5,318.1 1640.2,318.4 1640.9,317.5 1641.6,316.9 1642.3,318.3 1643.0,318.0 1643.7,317.9 1644.4,317.7 1645.1,318.5 1645.8,317.2 1646.5,318.4 1647.2,316.8 1647.9,317.8 1648.6,318.3 1649.3,316.7 1650.0,317.8 1650.7,316.8 1651.4,316.4 1652.1,317.1 1652.8,317.6 1653.5,316.7 1654.2,318.0 1654.9,316.1 1655.6,316.6 1656.3,316.7 1657.0,316.7 1657.7,316.5 1658.4,316.0 1659.1,316.3 1659.8,316.4 1660.5,317.2 1661.2,316.5 1661.9,317.2 1662.6,316.6 1663.3,316.4 1664.0,316.0 1664.7,316.1 1665.4,317.4 1666.1,316.5 1666.8,316.2 1667.5,315.9 1668.2,317.2 1668.9,316.8 1669.6,316.8 1670.3,317.0 1671.0,315.8 1671.7,316.8 1672.4,315.4 1673.1,316.6 1673.8,315.9 1674.5,316.5 1675.2,315.6 1675.9,315.8 1676.6,316.4 1677.3,316.9 1678.0,315.7 1678.7,315.3 1679.4,315.2 1680.1,316.3 1680.8,316.7 1681.5,314.9 1682.2,315.5 1682.9,315.1 1683.6,316.7 1684.3,315.0 1685.0,314.8 1685.7,316.2 1686.4,316.6 1687.1,316.2 1687.8,314.8 1688.5,315.4 1689.2,315.6 1689.9,316.3 1690.6,316.0 1691.3,314.5 1692.0,315.3 1692.7,315.9 1693.4,315.4" fill="none" stroke="#0073c8" stroke-width="5.6" stroke-linejoin="round" stroke-linecap="butt" />
<polyline points="1695.8,316.0 1695.8,307.5" fill="none" stroke="#0073c8" stroke-width="1.8" stroke-linejoin="round" stroke-linecap="butt" />
<polyline points="1696.2,316.0 1696.8,326.0 1699.0,324.0 1700.5,325.0" fill="none" stroke="#0073c8" stroke-width="4.5" stroke-linejoin="round" stroke-linecap="butt" />
<polyline points="182.0,876.4 340.0,876.4" fill="none" stroke="#f8520a" stroke-width="6.4" stroke-linejoin="round" stroke-linecap="butt" />
<polyline points="340.2,876.0 340.6,790.0 341.0,760.0" fill="none" stroke="#f8520a" stroke-width="1.3" stroke-linejoin="round" stroke-linecap="butt" />
<polyline points="341.0,760.7 341.4,762.9 341.8,762.6 342.2,760.5 342.6,757.1 343.0,753.5 343.4,751.1 343.8,750.5 344.2,753.5 344.6,754.1 345.0,753.9 345.4,753.1 345.8,746.9 346.2,746.1 346.6,744.9 347.0,747.8 347.4,751.7 347.8,751.7 348.2,750.9 348.6,750.3 349.0,756.4 349.4,757.7 349.8,757.5 350.2,754.8 350.6,756.6 351.0,759.4 351.4,763.3 351.8,759.6 352.2,761.3 352.6,758.6 353.0,758.5 353.4,760.9 353.8,765.5 354.2,763.6 354.6,759.5 355.0,756.1 355.4,752.2 355.8,752.9 356.2,747.9 356.6,741.5 357.0,742.2 357.4,741.9 357.8,732.8 358.2,737.1 358.6,728.9 359.0,730.4 359.4,735.2 359.8,735.4 360.2,730.2 360.6,734.6 361.0,733.9 361.4,731.6 361.8,732.8 362.2,730.1 362.6,726.1 363.0,728.1 363.4,730.4 363.8,730.5 364.2,730.0 364.6,731.1 365.0,726.4 365.4,725.5 365.8,725.2 366.2,729.1 366.6,727.5 367.0,730.6 367.4,728.5 367.8,719.0 368.2,717.2 368.6,713.5 369.0,710.7 369.4,711.5 369.8,708.2 370.2,705.3 370.6,707.0 371.0,702.9 371.4,702.2 371.8,696.2 372.2,698.1 372.6,697.7 373.0,699.2 373.4,698.6 373.8,697.7 374.2,697.3 374.6,691.1 375.0,694.0 375.4,692.1 375.8,692.3 376.2,690.4 376.6,688.3 377.0,694.2 377.4,692.9 377.8,693.2 378.2,689.2 378.6,692.3 379.0,692.6 379.4,691.0 379.8,694.8 380.2,695.6 380.6,691.8 381.0,692.8 381.4,695.0 381.8,696.1 382.2,697.5 382.6,698.0 383.0,701.9 383.4,703.0 383.8,706.1 384.2,717.4 384.6,730.3 385.0,718.4 385.4,702.2 385.8,696.1 386.2,685.5 386.6,684.6 387.0,684.6 387.4,674.2 387.8,675.5 388.2,670.8 388.6,674.2 389.0,673.0 389.4,666.9 389.8,670.5 390.2,671.3 390.6,666.4 391.0,668.7 391.4,665.1 391.8,665.2 392.2,667.3 392.6,668.6 393.0,675.0 393.4,671.5 393.8,674.7 394.2,676.7 394.6,679.0 395.0,680.6 395.4,677.0 395.8,677.7 396.2,670.3 396.6,670.6 397.0,663.3 397.4,664.2 397.8,658.4 398.2,651.7 398.6,654.3 399.0,649.9 399.4,649.3 399.8,646.3 400.2,652.1 400.6,648.7 401.0,650.4 401.4,643.9 401.8,647.6 402.2,645.2 402.6,646.8 403.0,649.1 403.4,652.1 403.8,654.2 404.2,649.8 404.6,655.3 405.0,649.8 405.4,648.3 405.8,649.5 406.2,648.7 406.6,651.6 407.0,649.5 407.4,647.5 407.8,649.6 408.2,650.0 408.6,648.0 409.0,649.5 409.4,653.6 409.8,652.6 410.2,660.1" fill="none" stroke="#f8520a" stroke-width="2.0" stroke-linejoin="round" stroke-linecap="butt" />
<polyline points="410.6,652.0 411.2,709.0 412.0,668.0" fill="none" stroke="#f8520a" stroke-width="1.3" stroke-linejoin="round" stroke-linecap="butt" />
<polyline points="412.0,653.6 412.3,654.9 412.7,655.0 413.0,654.2 413.3,657.8 413.6,660.9 414.0,659.7 414.3,659.9 414.6,649.3 415.0,647.3 415.3,641.3 415.6,632.6 416.0,625.2 416.3,640.7 416.6,649.7 416.9,664.1 417.3,673.6 417.6,676.2 417.9,666.3 418.3,655.9 418.6,651.2 418.9,642.8 419.3,645.7 419.6,645.4 419.9,647.6 420.2,652.7 420.6,655.8 420.9,653.1 421.2,649.0 421.6,643.0 421.9,639.0 422.2,634.7 422.6,629.0 422.9,623.8 423.2,620.6 423.5,632.2 423.9,633.5 424.2,639.6 424.5,645.9 424.9,653.3 425.2,660.5 425.5,664.1 425.9,665.8 426.2,662.9 426.5,650.7 426.8,646.9 427.2,638.6 427.5,632.7 427.8,625.8 428.2,615.0 428.5,620.0 428.8,626.3 429.2,634.9 429.5,644.5 429.8,647.6 430.1,660.1 430.5,667.8 430.8,662.6 431.1,653.1 431.5,646.6 431.8,637.4 432.1,630.6 432.5,631.6 432.8,639.9 433.1,647.1 433.4,648.1 433.8,652.5 434.1,653.5 434.4,662.7 434.8,658.5 435.1,654.3 435.4,645.1 435.8,634.9 436.1,631.5 436.4,621.7 436.7,628.1 437.1,634.6 437.4,639.5 437.7,644.6 438.1,652.3 438.4,656.2 438.7,655.1 439.1,643.4 439.4,631.4 439.7,623.0 440.0,613.2 440.4,604.3 440.7,607.4 441.0,605.9 441.4,614.6 441.7,614.2 442.0,621.5 442.4,627.4 442.7,628.4 443.0,630.8 443.3,631.3 443.7,627.3 444.0,623.1 444.3,617.9 444.7,620.7 445.0,612.1 445.3,607.0 445.7,614.1 446.0,617.1 446.3,620.4 446.6,629.4 447.0,632.6 447.3,639.3 447.6,634.0 448.0,623.0 448.3,619.2 448.6,615.1 449.0,620.7 449.3,629.4 449.6,641.4 449.9,646.7 450.3,650.3 450.6,638.3 450.9,623.8 451.3,606.9 451.6,603.3 451.9,609.4 452.3,614.7 452.6,621.8 452.9,624.5 453.2,630.9 453.6,638.1 453.9,639.5 454.2,638.2 454.6,631.7 454.9,623.2 455.2,625.1 455.6,627.6 455.9,628.5 456.2,637.8 456.5,640.8 456.9,637.5 457.2,633.4 457.5,632.6 457.9,627.4 458.2,621.2 458.5,623.2 458.9,629.9 459.2,632.7 459.5,639.2 459.8,645.2 460.2,650.4 460.5,658.1 460.8,664.4 461.2,655.6 461.5,643.2 461.8,631.9 462.2,621.2 462.5,618.9 462.8,621.6 463.1,630.5 463.5,636.2 463.8,641.7 464.1,637.4 464.5,633.8 464.8,630.8 465.1,625.2 465.5,625.7 465.8,621.8 466.1,625.9 466.4,630.2 466.8,634.8 467.1,635.8 467.4,640.6 467.8,635.5 468.1,630.9 468.4,628.3 468.8,632.7 469.1,622.0 469.4,623.8 469.7,622.8 470.1,615.3 470.4,624.8 470.7,631.6 471.1,635.8 471.4,645.3 471.7,647.7 472.1,651.0 472.4,651.1 472.7,643.6 473.0,636.4 473.4,631.1 473.7,633.7 474.0,626.3 474.4,630.3 474.7,631.7 475.0,636.3 475.4,638.3 475.7,640.6 476.0,641.5 476.3,641.3 476.7,636.6 477.0,632.8 477.3,630.5 477.7,625.8 478.0,635.1 478.3,639.7 478.7,646.1 479.0,650.9 479.3,661.4 479.6,658.6 480.0,656.8 480.3,655.2 480.6,646.5 481.0,642.4 481.3,633.3 481.6,625.3 482.0,630.1 482.3,634.1 482.6,641.4 482.9,646.9 483.3,639.8 483.6,631.7 483.9,623.2 484.3,613.9 484.6,611.3 484.9,626.4 485.3,639.2 485.6,651.4 485.9,646.2 486.2,636.2 486.6,620.2 486.9,613.5" fill="none" stroke="#f8520a" stroke-width="1.9" stroke-linejoin="round" stroke-linecap="butt" />
<polyline points="487.0,653.8 487.3,655.7 487.7,653.2 488.0,655.8 488.3,662.5 488.6,660.3 489.0,663.2 489.3,663.1 489.6,656.5 490.0,653.7 490.3,646.3 490.6,644.3 491.0,641.6 491.3,635.4 491.6,626.4 491.9,640.7 492.3,647.5 492.6,653.4 492.9,666.5 493.3,667.6 493.6,683.4 493.9,678.0 494.3,672.1 494.6,657.7 494.9,643.9 495.2,644.7 495.6,650.3 495.9,655.7 496.2,661.7 496.6,655.9 496.9,652.9 497.2,647.2 497.6,638.9 497.9,641.5 498.2,646.9 498.5,656.2 498.9,661.9 499.2,664.0 499.5,668.7 499.9,669.9 500.2,655.0 500.5,650.3 500.9,639.7 501.2,629.3 501.5,635.0 501.8,641.0 502.2,651.3 502.5,659.7 502.8,661.0 503.2,663.1 503.5,657.8 503.8,648.9 504.2,642.7 504.5,642.6 504.8,632.7 505.1,627.8 505.5,632.6 505.8,644.1 506.1,654.2 506.5,668.2 506.8,680.4 507.1,667.7 507.5,655.6 507.8,649.0 508.1,635.9 508.4,628.0 508.8,631.4 509.1,641.1 509.4,644.1 509.8,648.3 510.1,659.6 510.4,660.3 510.8,660.2 511.1,658.2 511.4,649.6 511.7,638.0 512.1,634.8 512.4,645.1 512.7,647.8 513.1,651.2 513.4,658.1 513.7,660.7 514.1,662.5 514.4,663.4 514.7,653.7 515.0,646.5 515.4,639.4 515.7,636.5 516.0,637.6 516.4,644.9 516.7,647.3 517.0,654.5 517.4,655.6 517.7,655.2 518.0,649.6 518.3,648.8 518.7,650.1 519.0,651.4 519.3,640.2 519.7,637.8 520.0,637.9 520.3,642.3 520.7,646.0 521.0,653.9 521.3,656.4 521.6,665.4 522.0,665.4 522.3,663.2 522.6,655.4 523.0,651.3 523.3,648.9 523.6,646.4 524.0,641.1 524.3,636.9 524.6,646.4 524.9,654.8 525.3,658.3 525.6,664.0 525.9,675.1 526.3,680.3 526.6,672.2 526.9,661.0 527.3,650.0 527.6,641.1 527.9,630.6 528.2,631.6 528.6,637.3 528.9,642.5 529.2,651.0 529.6,651.0 529.9,656.1 530.2,650.4 530.6,650.3 530.9,643.1 531.2,637.2 531.5,635.3 531.9,634.8 532.2,638.3 532.5,647.3 532.9,650.2 533.2,657.0 533.5,660.4 533.9,656.7 534.2,652.4 534.5,646.8 534.8,647.8 535.2,643.6 535.5,642.1 535.8,643.9 536.2,649.5 536.5,656.1 536.8,667.1 537.2,675.7 537.5,679.6 537.8,682.1 538.1,679.7 538.5,670.4 538.8,666.9 539.1,660.7 539.5,661.0 539.8,654.4 540.1,648.0 540.5,650.9 540.8,661.9 541.1,672.0 541.4,676.8 541.8,679.1 542.1,673.7 542.4,661.8 542.8,656.7 543.1,649.9 543.4,638.9 543.8,630.6 544.1,627.8 544.4,632.6 544.7,637.9 545.1,644.4 545.4,649.9 545.7,652.8 546.1,658.8 546.4,666.6 546.7,664.8 547.1,657.0 547.4,643.8 547.7,639.7 548.0,630.8 548.4,620.9 548.7,614.0 549.0,610.9 549.4,617.8 549.7,616.6 550.0,625.4 550.4,629.1 550.7,634.4 551.0,643.0 551.3,648.0 551.7,643.3 552.0,639.5 552.3,635.3 552.7,626.4 553.0,626.2 553.3,628.2 553.7,634.9 554.0,641.5 554.3,650.8 554.6,652.9 555.0,658.0 555.3,668.3 555.6,669.1 556.0,663.8 556.3,654.9 556.6,653.1 557.0,644.0 557.3,637.1 557.6,628.9 557.9,620.7 558.3,619.6 558.6,627.8 558.9,638.7 559.3,646.2 559.6,657.6 559.9,646.5 560.3,641.0 560.6,633.7 560.9,632.8 561.2,621.0 561.6,619.3 561.9,615.2 562.2,618.7 562.6,627.5 562.9,628.3 563.2,639.0 563.6,643.1 563.9,654.0 564.2,652.9 564.5,645.1 564.9,642.8 565.2,635.5 565.5,627.7 565.9,621.8 566.2,615.2 566.5,622.8 566.9,632.8 567.2,631.7 567.5,639.3 567.8,642.4 568.2,650.7 568.5,643.6 568.8,632.9 569.2,620.3 569.5,613.9 569.8,620.5 570.2,622.6 570.5,629.7 570.8,632.6 571.1,634.7 571.5,644.9 571.8,649.8 572.1,644.5 572.5,638.4 572.8,633.2 573.1,624.6 573.5,619.9" fill="none" stroke="#f8520a" stroke-width="1.9" stroke-linejoin="round" stroke-linecap="butt" />
<polyline points="574.0,668.1 574.3,672.7 574.7,675.8 575.0,678.5 575.3,680.5 575.7,684.7 576.0,690.2 576.3,688.9 576.6,685.7 577.0,681.8 577.3,684.5 577.6,678.8 578.0,672.7 578.3,669.0 578.6,661.9 579.0,665.0 579.3,670.1 579.6,674.1 579.9,676.1 580.3,680.4 580.6,687.1 580.9,690.8 581.3,688.1 581.6,681.1 581.9,672.0 582.3,656.2 582.6,646.6 582.9,641.2 583.2,654.3 583.6,658.4 583.9,666.5 584.2,676.9 584.6,679.4 584.9,665.8 585.2,657.2 585.6,653.8 585.9,646.2 586.2,642.3 586.5,634.4 586.9,643.5 587.2,656.1 587.5,667.5 587.9,671.1 588.2,669.8 588.5,661.4 588.9,660.0 589.2,658.8 589.5,658.1 589.8,655.0 590.2,656.9 590.5,659.2 590.8,667.0 591.2,670.9 591.5,678.2 591.8,671.7 592.2,667.1 592.5,652.5 592.8,645.5 593.1,636.8 593.5,644.4 593.8,651.8 594.1,660.7 594.5,670.0 594.8,677.3 595.1,687.8 595.5,680.7 595.8,674.8 596.1,671.7 596.4,663.0 596.8,660.0 597.1,668.1 597.4,676.8 597.8,686.3 598.1,682.5 598.4,681.0 598.8,676.1 599.1,669.5 599.4,660.1 599.7,651.9 600.1,648.5 600.4,650.0 600.7,653.8 601.1,654.0 601.4,656.0 601.7,662.1 602.1,659.6 602.4,665.5 602.7,661.6 603.0,653.2 603.4,653.0 603.7,647.6 604.0,643.2 604.4,637.6 604.7,636.2 605.0,644.1 605.4,645.9 605.7,651.0 606.0,651.9 606.3,649.9 606.7,642.6 607.0,632.6 607.3,625.5 607.7,623.3 608.0,620.2 608.3,625.0 608.7,634.0 609.0,642.8 609.3,652.6 609.6,654.0 610.0,664.5 610.3,669.3 610.6,657.1 611.0,652.2 611.3,635.6 611.6,636.1 612.0,634.8 612.3,636.1 612.6,647.1 612.9,652.9 613.3,658.4 613.6,663.4 613.9,657.1 614.3,645.4 614.6,635.8 614.9,626.4 615.3,621.4 615.6,626.3 615.9,634.3 616.2,643.0 616.6,648.8 616.9,659.5 617.2,655.1 617.6,643.8 617.9,641.0 618.2,635.4 618.6,631.7 618.9,631.5 619.2,632.6 619.5,637.5 619.9,644.2 620.2,651.6 620.5,654.1 620.9,659.2 621.2,664.9 621.5,659.7 621.9,655.4 622.2,652.2 622.5,643.7 622.8,642.0 623.2,635.9 623.5,640.1 623.8,641.9 624.2,640.1 624.5,647.5 624.8,644.2 625.2,651.5 625.5,651.6 625.8,648.6 626.1,645.2 626.5,644.2 626.8,641.9 627.1,637.5 627.5,637.3 627.8,630.2 628.1,630.9 628.5,639.0 628.8,643.0 629.1,655.9 629.4,660.6 629.8,658.5 630.1,656.1 630.4,650.4 630.8,646.3 631.1,636.8 631.4,634.5 631.8,628.0 632.1,623.9 632.4,629.1 632.7,631.7 633.1,634.4 633.4,641.7 633.7,647.1 634.1,647.3 634.4,643.1 634.7,637.1 635.1,638.8 635.4,635.0 635.7,628.4" fill="none" stroke="#f8520a" stroke-width="1.9" stroke-linejoin="round" stroke-linecap="butt" />
<polyline points="636.5,675.7 636.8,679.2 637.2,680.2 637.5,680.8 637.8,683.9 638.2,678.7 638.5,676.7 638.8,674.7 639.1,677.1 639.5,667.7 639.8,670.2 640.1,668.6 640.5,666.3 640.8,672.0 641.1,671.3 641.5,672.0 641.8,670.4 642.1,674.6 642.4,674.6 642.8,677.0 643.1,677.5 643.4,674.3 643.8,674.6 644.1,674.6 644.4,671.7 644.8,668.4 645.1,662.6 645.4,669.2 645.7,670.8 646.1,670.0 646.4,671.0 646.7,674.7 647.1,673.4 647.4,677.8 647.7,675.4 648.1,673.4 648.4,672.7 648.7,667.4 649.0,667.6 649.4,666.0 649.7,660.0 650.0,670.4 650.4,673.7 650.7,681.8 651.0,683.1 651.4,677.5 651.7,673.1 652.0,666.6 652.3,664.2 652.7,659.8 653.0,660.1 653.3,656.5 653.7,657.4 654.0,666.8 654.3,671.1 654.7,675.3 655.0,677.8 655.3,673.1 655.6,665.3 656.0,660.5 656.3,659.1 656.6,660.4 657.0,666.1 657.3,669.0 657.6,671.3 658.0,674.4 658.3,677.4 658.6,677.4 658.9,675.4 659.3,672.1 659.6,674.2 659.9,672.1 660.3,672.0 660.6,672.7 660.9,673.1 661.3,677.9 661.6,680.3 661.9,683.0 662.2,691.6 662.6,692.9 662.9,690.5 663.2,691.4 663.6,686.3 663.9,686.2 664.2,680.9 664.6,677.0 664.9,674.1 665.2,674.4 665.5,677.3 665.9,680.4 666.2,684.0 666.5,688.6 666.9,685.8 667.2,681.4 667.5,674.6 667.9,667.4 668.2,663.1 668.5,656.8 668.8,661.6 669.2,663.8 669.5,669.5 669.8,670.2 670.2,669.4 670.5,668.3 670.8,662.9 671.2,665.1 671.5,661.3 671.8,660.7 672.1,659.7 672.5,662.3 672.8,663.0 673.1,665.7 673.5,663.6 673.8,663.3 674.1,664.1 674.5,665.8 674.8,664.2 675.1,658.4 675.4,653.3 675.8,655.6 676.1,658.9 676.4,661.7 676.8,663.6 677.1,659.0 677.4,658.7 677.8,657.7 678.1,652.9 678.4,647.7 678.7,655.1 679.1,656.3 679.4,668.0 679.7,669.3 680.1,671.4 680.4,679.9 680.7,681.7 681.1,683.2 681.4,677.5 681.7,670.5 682.0,670.1 682.4,669.4 682.7,677.3 683.0,677.9 683.4,678.8 683.7,680.2 684.0,689.5 684.4,687.9 684.7,680.3 685.0,683.2 685.3,677.8 685.7,674.4 686.0,671.9 686.3,671.6 686.7,676.7 687.0,676.2 687.3,674.3 687.7,683.6 688.0,683.2 688.3,681.5 688.6,680.0 689.0,672.4 689.3,667.7 689.6,661.9 690.0,657.2 690.3,659.1 690.6,662.3 691.0,668.9 691.3,670.8 691.6,678.9 691.9,677.0 692.3,681.5 692.6,676.8 692.9,671.9 693.3,672.6 693.6,666.9 693.9,661.7 694.3,659.4 694.6,658.6 694.9,655.7 695.2,663.0 695.6,664.0 695.9,664.5 696.2,669.8 696.6,672.7 696.9,671.7 697.2,668.9 697.6,670.0 697.9,667.2 698.2,660.6 698.5,659.7 698.9,657.5 699.2,655.0 699.5,654.6 699.9,661.1 700.2,661.6 700.5,663.6 700.9,668.1 701.2,667.7 701.5,668.5 701.8,668.4 702.2,666.5 702.5,666.4 702.8,667.4 703.2,665.3 703.5,669.3 703.8,671.1 704.2,678.7 704.5,681.4" fill="none" stroke="#f8520a" stroke-width="1.9" stroke-linejoin="round" stroke-linecap="butt" />
<polyline points="705.0,697.5 705.4,693.1 705.8,697.3 706.2,696.5 706.6,693.4 707.0,695.6 707.4,696.3 707.8,695.2 708.2,695.7 708.6,697.0 709.0,697.9 709.4,697.8 709.8,694.0 710.2,695.0 710.6,695.1 711.0,697.6 711.4,695.5 711.8,697.9 712.2,699.4 712.6,699.1 713.0,693.1 713.4,695.5 713.8,691.0 714.2,693.7 714.6,688.7 715.0,689.7 715.4,692.0 715.8,691.3 716.2,695.9 716.6,694.0 717.0,696.9 717.4,697.1 717.8,692.7 718.2,691.0 718.6,693.3 719.0,690.1 719.4,694.9 719.8,695.3 720.2,691.6 720.6,692.5 721.0,693.5 721.4,688.3 721.8,691.7 722.2,692.5 722.6,693.8 723.0,697.0 723.4,698.7 723.8,702.4 724.2,701.3 724.6,700.5 725.0,701.6 725.4,700.0 725.8,698.7 726.2,697.6 726.6,697.3 727.0,695.7 727.4,696.8 727.8,696.7 728.2,697.1 728.6,697.7 729.0,694.8 729.4,694.2 729.8,695.9 730.2,691.1 730.6,693.1 731.0,691.7 731.4,692.4 731.8,692.4 732.2,691.7 732.6,688.7 733.0,687.5 733.4,693.2 733.8,693.4 734.2,691.1 734.6,691.3 735.0,687.1 735.4,688.2 735.8,688.2 736.2,688.7 736.6,686.3 737.0,686.1 737.4,692.9 737.8,694.0 738.2,691.6 738.6,696.5 739.0,697.8 739.4,695.7" fill="none" stroke="#f8520a" stroke-width="3.4" stroke-linejoin="round" stroke-linecap="butt" />
<polyline points="740.0,704.4 740.5,702.8 741.0,706.5 741.5,702.1 742.0,705.4 742.5,705.9 743.0,705.5 743.5,709.4 744.0,705.2 744.5,706.1 745.0,705.9 745.5,707.0 746.0,706.7 746.5,707.4 747.0,708.4 747.5,704.7 748.0,707.3 748.5,706.2 749.0,706.9 749.5,705.1 750.0,703.3 750.5,701.2 751.0,702.8 751.5,704.0 752.0,704.4 752.5,705.6 753.0,707.7 753.5,706.5 754.0,708.5 754.5,705.1 755.0,704.3 755.5,703.6 756.0,705.6 756.5,704.1 757.0,705.7 757.5,701.0 758.0,705.5 758.5,701.7 759.0,705.0 759.5,701.1 760.0,705.6 760.5,705.7 761.0,707.5 761.5,707.3 762.0,707.6 762.5,705.9 763.0,704.9 763.5,706.8 764.0,705.6 764.5,704.6 765.0,705.7 765.5,705.9 766.0,706.0 766.5,707.0 767.0,708.7 767.5,706.7 768.0,707.0 768.5,703.4 769.0,705.5 769.5,705.7 770.0,706.1 770.5,704.8 771.0,704.4 771.5,706.5 772.0,703.0 772.5,706.6 773.0,706.4 773.5,706.5 774.0,705.1 774.5,704.6 775.0,705.6 775.5,708.6 776.0,707.1 776.5,710.0 777.0,705.4 777.5,707.4 778.0,704.6 778.5,702.8 779.0,702.1 779.5,702.2 780.0,702.2 780.5,701.7 781.0,701.8 781.5,705.3 782.0,702.3 782.5,703.2 783.0,704.0 783.5,702.8 784.0,705.9 784.5,702.2 785.0,700.8 785.5,699.7 786.0,700.9 786.5,700.4 787.0,703.7 787.5,704.4 788.0,703.0 788.5,708.6 789.0,708.0 789.5,706.9 790.0,708.1 790.5,705.7 791.0,703.8 791.5,706.9 792.0,708.2 792.5,704.5 793.0,707.1 793.5,705.9 794.0,708.7 794.5,703.8 795.0,706.0 795.5,702.2 796.0,704.2 796.5,705.1 797.0,706.3 797.5,703.4 798.0,705.6 798.5,703.9 799.0,704.2 799.5,704.7 800.0,704.9 800.5,708.8 801.0,707.0 801.5,705.1 802.0,705.6 802.5,703.2 803.0,704.1 803.5,706.3 804.0,706.5 804.5,705.6 805.0,707.0 805.5,707.1 806.0,706.9 806.5,705.7 807.0,707.6 807.5,705.6 808.0,708.9 808.5,705.9 809.0,709.4 809.5,704.7 810.0,708.3 810.5,706.5 811.0,707.4 811.5,705.5 812.0,706.6 812.5,705.7 813.0,705.3 813.5,707.0 814.0,703.2 814.5,707.2 815.0,705.0 815.5,705.8 816.0,706.1 816.5,705.4 817.0,706.7 817.5,709.1 818.0,706.9 818.5,709.1 819.0,704.9 819.5,707.4 820.0,707.0 820.5,704.2 821.0,701.4 821.5,704.5 822.0,705.1 822.5,704.9 823.0,705.0 823.5,709.4 824.0,709.3 824.5,709.5 825.0,709.3 825.5,706.6 826.0,708.1 826.5,707.0 827.0,706.2 827.5,706.0 828.0,707.0 828.5,708.3 829.0,705.6 829.5,705.1 830.0,706.6 830.5,706.7 831.0,705.8 831.5,707.2 832.0,707.6 832.5,708.5 833.0,706.4 833.5,709.2 834.0,708.2 834.5,709.9 835.0,708.0 835.5,708.5 836.0,708.6 836.5,706.0 837.0,705.5 837.5,708.3 838.0,704.0 838.5,707.1 839.0,704.8 839.5,702.8 840.0,703.7 840.5,701.5 841.0,704.7 841.5,707.0 842.0,703.2 842.5,707.6 843.0,704.0 843.5,703.9 844.0,706.4 844.5,705.7 845.0,703.7 845.5,706.3 846.0,701.5 846.5,704.2 847.0,703.1 847.5,704.9 848.0,701.1 848.5,703.3 849.0,704.7 849.5,703.1 850.0,706.0 850.5,707.0 851.0,707.3 851.5,703.7 852.0,705.3 852.5,707.5 853.0,702.7 853.5,705.1 854.0,702.3 854.5,704.6 855.0,702.8 855.5,704.3 856.0,700.7 856.5,703.6 857.0,702.6 857.5,700.6 858.0,701.9 858.5,704.2 859.0,704.6 859.5,705.8 860.0,705.3 860.5,707.2 861.0,707.4 861.5,709.7 862.0,709.1 862.5,706.0 863.0,705.4 863.5,704.0 864.0,705.9 864.5,704.9 865.0,709.6 865.5,706.8 866.0,704.1 866.5,704.9 867.0,708.0 867.5,705.2 868.0,705.7 868.5,710.6 869.0,711.5 869.5,711.5 870.0,713.0 870.5,714.1 871.0,713.9 871.5,715.9 872.0,713.5 872.5,715.2 873.0,716.1 873.5,716.5 874.0,715.0 874.5,715.1 875.0,715.8 875.5,716.4 876.0,717.3 876.5,717.2 877.0,714.5 877.5,716.1 878.0,713.9 878.5,715.3 879.0,711.2 879.5,714.9 880.0,714.1 880.5,711.6 881.0,712.4 881.5,712.9 882.0,714.1 882.5,716.2 883.0,716.9 883.5,715.4 884.0,712.9 884.5,716.8 885.0,716.4 885.5,712.0 886.0,714.7 886.5,714.7 887.0,714.6 887.5,714.9 888.0,711.2 888.5,711.9 889.0,711.0 889.5,711.8 890.0,709.3 890.5,711.4 891.0,712.5 891.5,713.0 892.0,715.3 892.5,713.6 893.0,714.0 893.5,711.6 894.0,713.6 894.5,710.2 895.0,714.0 895.5,714.5 896.0,712.8 896.5,714.0 897.0,713.5 897.5,712.9 898.0,712.8 898.5,708.7 899.0,708.9 899.5,711.5 900.0,709.1 900.5,713.3 901.0,711.6 901.5,710.3 902.0,713.8 902.5,711.1 903.0,714.4 903.5,713.8 904.0,713.3 904.5,713.1 905.0,708.9 905.5,708.6 906.0,710.6 906.5,711.3 907.0,711.9 907.5,713.2 908.0,714.2 908.5,714.2 909.0,714.6 909.5,713.1 910.0,713.8 910.5,709.8 911.0,709.6 911.5,711.6 912.0,713.5 912.5,710.6 913.0,708.7 913.5,708.3 914.0,708.7 914.5,711.9 915.0,709.6 915.5,712.1 916.0,712.5 916.5,712.0 917.0,713.4 917.5,710.7 918.0,710.5 918.5,710.5 919.0,709.2 919.5,713.3 920.0,709.6 920.5,711.4 921.0,709.7 921.5,710.8 922.0,710.1 922.5,711.1 923.0,708.2 923.5,708.4 924.0,707.9 924.5,709.2 925.0,712.2 925.5,713.2 926.0,708.8 926.5,712.9 927.0,712.6 927.5,709.6 928.0,710.0 928.5,713.1 929.0,709.6 929.5,712.9 930.0,711.1 930.5,713.4 931.0,711.1 931.5,709.1 932.0,711.1 932.5,710.4 933.0,708.9 933.5,712.8 934.0,713.2 934.5,713.2 935.0,711.4 935.5,710.9 936.0,708.9 936.5,712.4 937.0,711.2 937.5,710.9 938.0,711.4 938.5,712.6 939.0,710.8 939.5,710.4 940.0,715.0 940.5,712.4 941.0,715.2 941.5,718.0 942.0,715.9 942.5,717.7 943.0,721.2 943.5,720.6 944.0,720.5 944.5,717.5 945.0,719.1 945.5,717.2 946.0,717.9 946.5,717.6 947.0,717.5 947.5,717.0 948.0,719.3 948.5,717.7 949.0,719.8 949.5,717.0 950.0,715.9 950.5,716.7 951.0,719.0 951.5,716.6 952.0,719.3 952.5,719.2 953.0,717.6 953.5,717.5 954.0,717.2 954.5,718.7 955.0,720.1 955.5,718.9 956.0,723.1 956.5,719.5 957.0,723.5 957.5,720.1 958.0,723.3 958.5,718.2 959.0,721.4 959.5,718.5 960.0,717.9 960.5,716.9 961.0,717.9 961.5,718.4 962.0,720.5 962.5,719.9 963.0,715.0 963.5,717.0 964.0,714.4 964.5,714.8 965.0,717.3 965.5,716.6 966.0,718.2 966.5,718.5 967.0,715.5 967.5,718.3 968.0,719.4 968.5,719.4 969.0,718.5 969.5,718.5 970.0,718.9 970.5,718.0 971.0,718.3 971.5,719.2 972.0,716.1 972.5,716.3 973.0,716.2 973.5,718.2 974.0,715.2 974.5,716.1 975.0,717.6 975.5,715.8 976.0,718.0 976.5,716.7 977.0,714.9 977.5,716.1 978.0,714.8 978.5,716.1 979.0,715.9 979.5,716.2 980.0,718.7 980.5,718.6 981.0,717.3 981.5,716.9 982.0,717.9 982.5,718.9 983.0,716.4 983.5,720.5 984.0,716.8 984.5,716.8 985.0,718.9 985.5,715.8 986.0,720.1 986.5,720.3 987.0,715.9 987.5,718.7 988.0,719.6 988.5,717.3 989.0,716.8 989.5,716.5 990.0,715.8 990.5,714.6 991.0,714.2 991.5,715.0 992.0,710.2 992.5,711.6 993.0,711.0 993.5,711.8 994.0,712.9 994.5,716.6 995.0,714.0 995.5,716.0 996.0,715.6 996.5,719.4 997.0,715.8 997.5,716.6 998.0,716.2 998.5,714.9 999.0,713.6 999.5,714.8 1000.0,714.0 1000.5,713.8 1001.0,718.7 1001.5,716.6 1002.0,715.2 1002.5,718.1 1003.0,717.4 1003.5,718.7 1004.0,717.5 1004.5,716.6 1005.0,719.1 1005.5,717.7 1006.0,719.4 1006.5,715.7 1007.0,714.0 1007.5,713.0 1008.0,713.3 1008.5,713.6 1009.0,715.6 1009.5,715.2 1010.0,718.0 1010.5,714.1 1011.0,717.5 1011.5,714.7 1012.0,715.5 1012.5,717.3 1013.0,715.7 1013.5,715.7 1014.0,713.3 1014.5,712.1 1015.0,714.3 1015.5,715.4 1016.0,713.6 1016.5,715.0 1017.0,719.5 1017.5,718.5 1018.0,718.7 1018.5,715.1 1019.0,718.4 1019.5,714.9 1020.0,714.1 1020.5,715.5 1021.0,716.0 1021.5,715.1 1022.0,719.2 1022.5,719.1 1023.0,715.5 1023.5,717.0 1024.0,718.7 1024.5,716.6 1025.0,717.8 1025.5,717.4 1026.0,719.5 1026.5,719.8 1027.0,722.9 1027.5,720.0 1028.0,719.4 1028.5,723.3 1029.0,719.0 1029.5,719.6 1030.0,719.3 1030.5,716.7 1031.0,719.3 1031.5,716.4 1032.0,715.8 1032.5,715.1 1033.0,719.0 1033.5,715.6 1034.0,718.8 1034.5,716.6 1035.0,718.8 1035.5,714.5 1036.0,717.8 1036.5,718.1 1037.0,716.7 1037.5,713.9 1038.0,718.0 1038.5,716.9 1039.0,713.7 1039.5,717.1 1040.0,713.2 1040.5,714.2 1041.0,714.4 1041.5,717.6 1042.0,716.7 1042.5,715.0 1043.0,716.9 1043.5,718.9 1044.0,715.5 1044.5,718.6 1045.0,716.6 1045.5,718.4 1046.0,717.5 1046.5,716.9 1047.0,715.3 1047.5,717.6 1048.0,716.7 1048.5,717.5 1049.0,714.8 1049.5,718.5 1050.0,713.9 1050.5,714.8 1051.0,716.7 1051.5,713.9 1052.0,714.3 1052.5,715.8 1053.0,717.6 1053.5,718.9 1054.0,716.8 1054.5,718.4 1055.0,715.0 1055.5,718.8 1056.0,717.5 1056.5,718.5 1057.0,715.2 1057.5,716.6 1058.0,717.8 1058.5,714.2 1059.0,717.9 1059.5,717.0 1060.0,717.4 1060.5,714.6 1061.0,717.7 1061.5,716.7 1062.0,714.5 1062.5,714.0 1063.0,717.2 1063.5,715.0 1064.0,715.2 1064.5,717.1 1065.0,720.1 1065.5,718.2 1066.0,718.3 1066.5,720.2 1067.0,721.0 1067.5,720.0 1068.0,721.5 1068.5,718.0 1069.0,717.5 1069.5,716.5 1070.0,715.8 1070.5,715.4 1071.0,718.5 1071.5,716.6 1072.0,717.7 1072.5,718.4 1073.0,721.4 1073.5,718.7 1074.0,721.1 1074.5,719.7 1075.0,722.1 1075.5,719.9 1076.0,717.9 1076.5,720.1 1077.0,718.8 1077.5,717.7 1078.0,717.4 1078.5,716.2 1079.0,720.4 1079.5,720.2 1080.0,721.1 1080.5,720.9 1081.0,720.1 1081.5,720.5 1082.0,720.7 1082.5,722.8 1083.0,720.3 1083.5,720.1 1084.0,720.6 1084.5,722.2 1085.0,723.3 1085.5,723.2 1086.0,724.1 1086.5,724.3 1087.0,721.8 1087.5,723.1 1088.0,722.4 1088.5,720.4 1089.0,721.7 1089.5,721.5 1090.0,717.2 1090.5,719.5 1091.0,718.1 1091.5,722.0 1092.0,721.4 1092.5,719.3 1093.0,721.6 1093.5,720.6 1094.0,720.8 1094.5,723.1 1095.0,721.8 1095.5,724.2 1096.0,724.2 1096.5,724.0 1097.0,722.2 1097.5,724.8 1098.0,720.6 1098.5,723.5 1099.0,721.0 1099.5,723.1 1100.0,718.9 1100.5,721.3 1101.0,718.7 1101.5,719.8 1102.0,721.4 1102.5,720.0 1103.0,723.2 1103.5,722.2 1104.0,720.0 1104.5,720.3 1105.0,719.0 1105.5,716.8 1106.0,720.6 1106.5,721.4 1107.0,723.0 1107.5,723.1 1108.0,720.0 1108.5,721.0 1109.0,720.9 1109.5,718.7 1110.0,722.7 1110.5,721.2 1111.0,722.1 1111.5,723.0 1112.0,722.3 1112.5,721.1 1113.0,723.8 1113.5,719.8 1114.0,722.1 1114.5,720.1 1115.0,724.0 1115.5,724.8 1116.0,724.3 1116.5,725.2 1117.0,723.8 1117.5,721.9 1118.0,721.2 1118.5,721.6 1119.0,718.6 1119.5,721.5 1120.0,719.2 1120.5,720.9 1121.0,721.0 1121.5,723.4 1122.0,724.5 1122.5,726.6 1123.0,726.5 1123.5,722.6 1124.0,722.5 1124.5,721.3 1125.0,724.3 1125.5,723.0 1126.0,726.6 1126.5,723.2 1127.0,726.2 1127.5,724.4 1128.0,723.6 1128.5,722.6 1129.0,723.9 1129.5,720.8 1130.0,723.5 1130.5,723.3 1131.0,722.1 1131.5,722.8 1132.0,721.3 1132.5,723.1 1133.0,724.3 1133.5,723.7 1134.0,722.8 1134.5,727.4 1135.0,726.9 1135.5,725.0 1136.0,725.8 1136.5,725.6 1137.0,726.3 1137.5,723.3 1138.0,723.4 1138.5,723.7 1139.0,720.4 1139.5,723.0 1140.0,725.0 1140.5,724.7 1141.0,725.2 1141.5,721.6 1142.0,724.5 1142.5,722.2 1143.0,725.4 1143.5,725.4 1144.0,723.7 1144.5,724.9 1145.0,724.4 1145.5,726.3 1146.0,723.7 1146.5,720.5 1147.0,722.1 1147.5,719.5 1148.0,720.5 1148.5,722.8 1149.0,723.2 1149.5,721.5 1150.0,723.1 1150.5,723.3 1151.0,723.6 1151.5,724.1 1152.0,721.4 1152.5,720.9 1153.0,722.1 1153.5,725.0 1154.0,726.7 1154.5,726.1 1155.0,722.6 1155.5,725.8 1156.0,725.3 1156.5,724.9 1157.0,724.0 1157.5,721.4 1158.0,722.3 1158.5,721.6 1159.0,719.3 1159.5,721.7 1160.0,720.6" fill="none" stroke="#f8520a" stroke-width="4.6" stroke-linejoin="round" stroke-linecap="butt" />
<polyline points="1160.0,728.3 1160.5,727.6 1161.0,726.6 1161.5,727.6 1162.0,723.3 1162.5,723.1 1163.0,723.3 1163.5,725.7 1164.0,724.4 1164.5,724.0 1165.0,722.8 1165.5,721.7 1166.0,720.8 1166.5,721.2 1167.0,721.2 1167.5,722.3 1168.0,721.3 1168.5,723.6 1169.0,723.5 1169.5,722.5 1170.0,721.4 1170.5,722.2 1171.0,720.9 1171.5,723.4 1172.0,722.6 1172.5,725.5 1173.0,723.4 1173.5,725.3 1174.0,722.9 1174.5,723.3 1175.0,721.9 1175.5,723.6 1176.0,720.9 1176.5,720.0 1177.0,719.2 1177.5,720.7 1178.0,722.7 1178.5,722.4 1179.0,724.5 1179.5,723.5 1180.0,722.8 1180.5,721.7 1181.0,719.1 1181.5,720.9 1182.0,719.3 1182.5,719.1 1183.0,719.3 1183.5,719.6 1184.0,721.5 1184.5,720.3 1185.0,720.6 1185.5,721.3 1186.0,723.7 1186.5,721.0 1187.0,721.1 1187.5,720.8 1188.0,720.7 1188.5,720.4 1189.0,722.5 1189.5,723.2 1190.0,721.2 1190.5,723.1 1191.0,719.9 1191.5,721.0 1192.0,722.1 1192.5,719.0 1193.0,722.3 1193.5,719.5 1194.0,719.5 1194.5,721.2 1195.0,721.4 1195.5,718.9 1196.0,720.0 1196.5,721.2 1197.0,720.1 1197.5,722.0 1198.0,718.7 1198.5,721.4 1199.0,719.8 1199.5,719.6 1200.0,719.7 1200.5,718.1 1201.0,719.4 1201.5,719.5 1202.0,722.8 1202.5,721.6 1203.0,721.2 1203.5,724.4 1204.0,722.4 1204.5,724.8 1205.0,722.7 1205.5,723.5 1206.0,724.1 1206.5,723.4 1207.0,725.5 1207.5,725.4 1208.0,726.2 1208.5,725.2 1209.0,724.0 1209.5,724.6 1210.0,725.0 1210.5,726.7 1211.0,727.9 1211.5,725.5 1212.0,724.4 1212.5,722.7 1213.0,723.9 1213.5,723.8 1214.0,725.9 1214.5,726.9 1215.0,729.4 1215.5,727.2 1216.0,728.7 1216.5,724.7 1217.0,725.4 1217.5,726.5 1218.0,725.4 1218.5,724.2 1219.0,725.6 1219.5,726.3 1220.0,727.7 1220.5,724.7 1221.0,724.2 1221.5,726.9 1222.0,726.1 1222.5,724.5 1223.0,724.1 1223.5,723.6 1224.0,725.4 1224.5,727.1 1225.0,725.9 1225.5,729.0 1226.0,727.2 1226.5,727.1 1227.0,725.2 1227.5,723.1 1228.0,722.2 1228.5,721.5 1229.0,721.9 1229.5,722.4 1230.0,724.4 1230.5,722.9 1231.0,724.8 1231.5,722.8 1232.0,723.6 1232.5,721.7 1233.0,724.6 1233.5,722.1 1234.0,723.3 1234.5,723.3 1235.0,723.2 1235.5,722.1 1236.0,724.4 1236.5,722.9 1237.0,721.7 1237.5,721.6 1238.0,723.3 1238.5,723.8 1239.0,723.0 1239.5,723.2 1240.0,725.5 1240.5,724.6 1241.0,722.0 1241.5,724.1 1242.0,720.6 1242.5,723.4 1243.0,723.3 1243.5,720.7 1244.0,724.4 1244.5,724.2 1245.0,721.2 1245.5,722.5 1246.0,721.0 1246.5,719.2 1247.0,719.4 1247.5,719.8 1248.0,722.2 1248.5,722.1 1249.0,723.5 1249.5,720.4 1250.0,720.8 1250.5,720.5 1251.0,720.9 1251.5,722.2 1252.0,723.4 1252.5,723.5 1253.0,721.7 1253.5,722.5 1254.0,723.7 1254.5,723.8 1255.0,723.8 1255.5,721.6 1256.0,722.1 1256.5,720.5 1257.0,722.4 1257.5,721.7 1258.0,722.7 1258.5,723.4 1259.0,722.4 1259.5,722.8 1260.0,725.9 1260.5,726.2 1261.0,727.4 1261.5,725.4 1262.0,723.6 1262.5,723.7 1263.0,727.7 1263.5,727.3 1264.0,725.5 1264.5,726.5 1265.0,725.3 1265.5,727.4 1266.0,726.9 1266.5,727.5 1267.0,726.2 1267.5,724.9 1268.0,726.9 1268.5,724.9 1269.0,726.7 1269.5,724.8 1270.0,724.9 1270.5,725.8 1271.0,724.1 1271.5,726.4 1272.0,725.3 1272.5,727.4 1273.0,726.5 1273.5,726.7 1274.0,726.6 1274.5,725.4 1275.0,725.6 1275.5,727.1 1276.0,725.4 1276.5,725.2 1277.0,723.4 1277.5,722.1 1278.0,724.0 1278.5,722.3 1279.0,724.0 1279.5,721.8 1280.0,723.5 1280.5,724.5 1281.0,725.1 1281.5,721.7 1282.0,724.7 1282.5,723.7 1283.0,721.9 1283.5,720.8 1284.0,724.0 1284.5,722.7 1285.0,722.7 1285.5,721.6 1286.0,720.8 1286.5,723.2 1287.0,724.8 1287.5,723.9 1288.0,726.7 1288.5,725.9 1289.0,722.8 1289.5,724.1 1290.0,726.6 1290.5,725.9 1291.0,726.1 1291.5,723.9 1292.0,727.0 1292.5,726.2 1293.0,724.8 1293.5,725.1 1294.0,722.5 1294.5,724.7 1295.0,721.5 1295.5,722.5 1296.0,724.4 1296.5,723.2 1297.0,725.0 1297.5,724.9 1298.0,724.3 1298.5,722.9 1299.0,723.2 1299.5,722.9 1300.0,723.0 1300.5,721.9 1301.0,722.8 1301.5,724.5 1302.0,724.1 1302.5,723.5 1303.0,723.7 1303.5,723.0 1304.0,722.2 1304.5,722.0 1305.0,723.7 1305.5,725.3 1306.0,725.1 1306.5,724.2 1307.0,725.4 1307.5,723.8 1308.0,723.7 1308.5,723.6 1309.0,725.5 1309.5,725.3 1310.0,723.0 1310.5,725.7 1311.0,722.5 1311.5,724.5 1312.0,725.7 1312.5,723.4 1313.0,724.2 1313.5,724.8 1314.0,725.2 1314.5,725.3 1315.0,725.4 1315.5,723.1 1316.0,722.8 1316.5,725.5 1317.0,722.1 1317.5,722.4 1318.0,724.0 1318.5,720.9 1319.0,724.3 1319.5,723.8 1320.0,723.1 1320.5,723.1 1321.0,724.8 1321.5,726.3 1322.0,723.7 1322.5,723.2 1323.0,723.3 1323.5,723.8 1324.0,721.7 1324.5,721.6 1325.0,724.0 1325.5,722.7 1326.0,724.2 1326.5,724.3 1327.0,724.4 1327.5,724.5 1328.0,725.8 1328.5,726.4 1329.0,723.2 1329.5,723.1 1330.0,722.1 1330.5,723.7 1331.0,721.4 1331.5,722.0 1332.0,722.6 1332.5,724.8 1333.0,721.4 1333.5,722.6 1334.0,725.8 1334.5,724.3 1335.0,723.9 1335.5,726.1 1336.0,722.5 1336.5,721.6 1337.0,724.7 1337.5,724.2 1338.0,723.0 1338.5,721.5 1339.0,722.8 1339.5,719.5 1340.0,720.4 1340.5,720.0 1341.0,722.2 1341.5,721.9 1342.0,724.7 1342.5,725.0 1343.0,726.9 1343.5,723.8 1344.0,723.6 1344.5,721.5 1345.0,721.9 1345.5,721.9 1346.0,725.2 1346.5,722.1 1347.0,726.2 1347.5,728.9 1348.0,731.1 1348.5,732.0 1349.0,731.9 1349.5,735.0 1350.0,733.6 1350.5,733.7 1351.0,735.0 1351.5,730.9 1352.0,732.8 1352.5,732.3 1353.0,731.7 1353.5,729.8 1354.0,732.6 1354.5,729.7 1355.0,729.9 1355.5,732.0 1356.0,732.6 1356.5,730.3 1357.0,731.4 1357.5,733.1 1358.0,732.0 1358.5,731.0 1359.0,731.8 1359.5,733.1 1360.0,733.7 1360.5,732.2 1361.0,731.6 1361.5,733.6 1362.0,731.2 1362.5,730.6 1363.0,730.7 1363.5,730.4 1364.0,729.7 1364.5,730.4 1365.0,729.7 1365.5,732.0 1366.0,730.5 1366.5,732.0 1367.0,734.5 1367.5,732.3 1368.0,733.9 1368.5,731.3 1369.0,733.6 1369.5,730.8 1370.0,734.1 1370.5,734.1 1371.0,733.4 1371.5,732.0 1372.0,734.8 1372.5,735.1 1373.0,734.2 1373.5,734.1 1374.0,731.5 1374.5,733.4 1375.0,731.2 1375.5,732.5 1376.0,732.1 1376.5,731.3 1377.0,731.2 1377.5,733.4 1378.0,729.5 1378.5,730.4 1379.0,729.4 1379.5,727.3 1380.0,727.2 1380.5,729.2 1381.0,729.9 1381.5,730.5 1382.0,731.2 1382.5,731.6 1383.0,733.5 1383.5,734.7 1384.0,731.3 1384.5,730.6 1385.0,730.7 1385.5,728.4 1386.0,727.5 1386.5,729.6 1387.0,728.6 1387.5,727.4 1388.0,729.0 1388.5,731.4 1389.0,728.3 1389.5,732.1 1390.0,731.6 1390.5,733.0 1391.0,732.1 1391.5,732.6 1392.0,732.9 1392.5,729.4 1393.0,728.5 1393.5,729.9 1394.0,729.8 1394.5,730.7 1395.0,730.8 1395.5,733.7 1396.0,732.1 1396.5,731.7 1397.0,728.9 1397.5,729.3 1398.0,728.6 1398.5,730.6 1399.0,726.7 1399.5,727.9 1400.0,728.8 1400.5,728.3 1401.0,729.0 1401.5,727.5 1402.0,726.9 1402.5,727.1 1403.0,728.3 1403.5,728.3 1404.0,728.4 1404.5,731.2 1405.0,729.9 1405.5,729.6 1406.0,731.3 1406.5,731.1 1407.0,731.6 1407.5,730.5 1408.0,728.2 1408.5,730.0 1409.0,728.7 1409.5,728.8 1410.0,731.1 1410.5,732.1 1411.0,731.9 1411.5,729.4 1412.0,730.1 1412.5,731.4 1413.0,730.7 1413.5,726.9 1414.0,727.5 1414.5,729.0 1415.0,727.8 1415.5,727.4 1416.0,728.1 1416.5,729.2 1417.0,729.8 1417.5,729.9 1418.0,729.2 1418.5,729.2 1419.0,728.5 1419.5,729.3 1420.0,728.6 1420.5,728.7 1421.0,729.7 1421.5,726.9 1422.0,726.9 1422.5,729.2 1423.0,728.9 1423.5,730.9 1424.0,728.7 1424.5,730.3 1425.0,730.1 1425.5,728.0 1426.0,727.1 1426.5,729.0 1427.0,728.3 1427.5,727.9 1428.0,728.3 1428.5,726.3 1429.0,727.3 1429.5,727.5 1430.0,727.3 1430.5,728.0 1431.0,726.6 1431.5,728.1 1432.0,729.0 1432.5,728.7 1433.0,725.5 1433.5,726.4 1434.0,728.3 1434.5,728.4 1435.0,728.0 1435.5,729.9 1436.0,730.0 1436.5,728.8 1437.0,727.8 1437.5,731.0 1438.0,729.0 1438.5,728.2 1439.0,726.8 1439.5,729.6 1440.0,728.2 1440.5,725.4 1441.0,725.4 1441.5,727.9 1442.0,724.3 1442.5,726.9 1443.0,727.0 1443.5,727.2 1444.0,728.2 1444.5,726.7 1445.0,727.8 1445.5,729.0 1446.0,728.3 1446.5,728.5 1447.0,729.0 1447.5,727.0 1448.0,727.1 1448.5,728.1 1449.0,727.0 1449.5,725.0 1450.0,728.0 1450.5,726.5 1451.0,726.2 1451.5,725.8 1452.0,728.7 1452.5,727.6 1453.0,725.7 1453.5,725.2 1454.0,728.0 1454.5,725.5 1455.0,727.3 1455.5,728.2 1456.0,729.6 1456.5,728.9 1457.0,726.5 1457.5,727.7 1458.0,728.6 1458.5,726.4 1459.0,726.5 1459.5,727.3 1460.0,731.1 1460.5,731.8 1461.0,729.9 1461.5,729.3 1462.0,730.0 1462.5,729.4 1463.0,731.4 1463.5,732.7 1464.0,733.9 1464.5,732.6 1465.0,735.8 1465.5,734.0 1466.0,733.5 1466.5,734.3 1467.0,731.2 1467.5,733.2 1468.0,731.9 1468.5,732.2 1469.0,732.8 1469.5,729.1 1470.0,729.6 1470.5,730.6 1471.0,731.4 1471.5,732.4 1472.0,731.7 1472.5,730.5 1473.0,728.5 1473.5,729.3 1474.0,729.0 1474.5,728.2 1475.0,732.0 1475.5,732.1 1476.0,731.0 1476.5,729.0 1477.0,729.6 1477.5,727.8 1478.0,728.3 1478.5,725.3 1479.0,727.2 1479.5,726.9 1480.0,728.7 1480.5,727.8 1481.0,729.4 1481.5,727.9 1482.0,729.9 1482.5,729.6 1483.0,732.7 1483.5,732.8 1484.0,729.9 1484.5,731.0 1485.0,727.9 1485.5,729.1 1486.0,730.4 1486.5,727.1 1487.0,729.9 1487.5,729.7 1488.0,732.2 1488.5,730.4 1489.0,732.3 1489.5,731.1 1490.0,731.3 1490.5,730.7 1491.0,729.4 1491.5,728.1 1492.0,729.4 1492.5,730.4 1493.0,730.6 1493.5,730.0 1494.0,729.4 1494.5,727.8 1495.0,727.7 1495.5,729.4 1496.0,728.0 1496.5,729.0 1497.0,728.4 1497.5,728.1 1498.0,727.5 1498.5,730.2 1499.0,728.1 1499.5,729.7 1500.0,727.9 1500.5,731.7 1501.0,728.6 1501.5,730.0 1502.0,731.0 1502.5,728.3 1503.0,729.4 1503.5,728.0 1504.0,729.7 1504.5,725.9 1505.0,725.9 1505.5,727.6 1506.0,728.7 1506.5,728.9 1507.0,727.6 1507.5,728.8 1508.0,726.9 1508.5,729.1 1509.0,727.7 1509.5,730.2 1510.0,727.8 1510.5,726.0 1511.0,725.3 1511.5,726.3 1512.0,726.0 1512.5,728.9 1513.0,728.3 1513.5,726.9 1514.0,726.7 1514.5,726.2 1515.0,726.7 1515.5,729.0 1516.0,725.8 1516.5,727.9 1517.0,725.4 1517.5,725.9 1518.0,725.5 1518.5,723.8 1519.0,726.8 1519.5,727.5 1520.0,724.6 1520.5,728.3 1521.0,728.1 1521.5,728.0 1522.0,728.7 1522.5,726.0 1523.0,726.2 1523.5,728.2 1524.0,727.6 1524.5,724.9 1525.0,726.3 1525.5,725.9 1526.0,725.6 1526.5,728.3 1527.0,728.2 1527.5,726.0 1528.0,728.6 1528.5,726.3 1529.0,727.0 1529.5,728.5 1530.0,727.0 1530.5,728.7 1531.0,728.9 1531.5,726.7 1532.0,728.2 1532.5,725.7 1533.0,725.9 1533.5,727.6 1534.0,725.7 1534.5,728.4 1535.0,728.7 1535.5,724.7 1536.0,727.4 1536.5,726.1 1537.0,727.5 1537.5,727.0 1538.0,727.8 1538.5,728.1 1539.0,728.5 1539.5,728.1 1540.0,728.3 1540.5,724.6 1541.0,727.5 1541.5,727.5 1542.0,727.1 1542.5,727.9 1543.0,726.6 1543.5,727.1 1544.0,728.2 1544.5,727.4 1545.0,728.9 1545.5,726.4 1546.0,726.2 1546.5,727.9 1547.0,728.4 1547.5,725.8 1548.0,725.9 1548.5,724.9 1549.0,726.2 1549.5,729.5 1550.0,730.0 1550.5,727.9 1551.0,728.9 1551.5,725.8 1552.0,726.9 1552.5,727.4 1553.0,724.6 1553.5,728.6 1554.0,732.0 1554.5,732.8 1555.0,736.5 1555.5,741.3 1556.0,740.5 1556.5,740.8 1557.0,741.4 1557.5,744.3 1558.0,743.1 1558.5,743.1 1559.0,742.7 1559.5,740.5 1560.0,741.2 1560.5,740.3 1561.0,739.3 1561.5,741.8 1562.0,742.4 1562.5,743.5 1563.0,744.3 1563.5,740.0 1564.0,741.4 1564.5,741.2 1565.0,740.2 1565.5,740.2 1566.0,741.8 1566.5,741.6 1567.0,741.6 1567.5,742.9 1568.0,742.7 1568.5,740.3 1569.0,740.8 1569.5,742.3 1570.0,738.8 1570.5,739.9 1571.0,740.1 1571.5,737.7 1572.0,737.7 1572.5,738.2 1573.0,740.0 1573.5,739.2 1574.0,742.9 1574.5,743.2 1575.0,743.8 1575.5,741.1 1576.0,741.5 1576.5,741.9 1577.0,739.6 1577.5,739.8 1578.0,739.3 1578.5,740.9 1579.0,740.7 1579.5,741.3 1580.0,741.8 1580.5,740.8 1581.0,739.9 1581.5,738.6 1582.0,739.6 1582.5,741.1 1583.0,741.1 1583.5,737.4 1584.0,739.3 1584.5,736.4 1585.0,736.9 1585.5,738.4 1586.0,737.9 1586.5,740.5 1587.0,739.9 1587.5,739.5 1588.0,741.7 1588.5,740.0 1589.0,739.6 1589.5,739.3 1590.0,737.9 1590.5,740.7 1591.0,740.6 1591.5,739.7 1592.0,740.9 1592.5,738.3 1593.0,737.3 1593.5,736.3 1594.0,736.5 1594.5,737.1 1595.0,736.2 1595.5,736.3 1596.0,734.8 1596.5,735.0 1597.0,738.3 1597.5,737.9 1598.0,739.7 1598.5,740.0 1599.0,738.0 1599.5,738.5 1600.0,739.8 1600.5,737.1 1601.0,739.1 1601.5,736.5 1602.0,735.1 1602.5,735.5 1603.0,736.1 1603.5,737.1 1604.0,737.5 1604.5,734.6 1605.0,734.9 1605.5,735.0 1606.0,733.4 1606.5,735.0 1607.0,735.6 1607.5,736.5 1608.0,736.2 1608.5,736.1 1609.0,737.9 1609.5,736.2 1610.0,736.4 1610.5,739.1 1611.0,736.4 1611.5,735.6 1612.0,735.2 1612.5,736.1 1613.0,734.6 1613.5,736.3 1614.0,736.2 1614.5,735.2 1615.0,737.1 1615.5,736.4 1616.0,734.2 1616.5,734.9 1617.0,734.7 1617.5,736.9 1618.0,734.4 1618.5,735.0 1619.0,733.6 1619.5,737.1 1620.0,737.0 1620.5,737.1 1621.0,737.5 1621.5,736.1 1622.0,734.9 1622.5,733.5 1623.0,734.6 1623.5,736.5 1624.0,733.2 1624.5,733.9 1625.0,734.8 1625.5,732.4 1626.0,732.9 1626.5,734.5 1627.0,732.4 1627.5,733.2 1628.0,733.8 1628.5,733.9 1629.0,736.3 1629.5,736.9 1630.0,735.5 1630.5,734.1 1631.0,734.0 1631.5,735.6 1632.0,735.8 1632.5,736.4 1633.0,733.9 1633.5,734.1 1634.0,734.6 1634.5,734.8 1635.0,736.1 1635.5,732.8 1636.0,733.2 1636.5,732.2 1637.0,734.9 1637.5,734.9 1638.0,736.0 1638.5,735.0 1639.0,736.5 1639.5,738.1 1640.0,734.5 1640.5,737.3 1641.0,736.9 1641.5,735.2 1642.0,736.1 1642.5,735.7 1643.0,733.2 1643.5,736.2 1644.0,735.8 1644.5,732.5 1645.0,734.6 1645.5,732.2 1646.0,731.6 1646.5,732.4 1647.0,732.8 1647.5,729.9 1648.0,729.3 1648.5,732.4 1649.0,731.2 1649.5,731.9 1650.0,731.6 1650.5,733.3 1651.0,732.3 1651.5,733.3 1652.0,733.9 1652.5,731.0 1653.0,733.2 1653.5,733.2 1654.0,731.2 1654.5,731.4 1655.0,730.8 1655.5,732.0 1656.0,733.3 1656.5,731.3 1657.0,734.5 1657.5,732.2 1658.0,734.0 1658.5,733.8 1659.0,736.5 1659.5,733.1 1660.0,735.8 1660.5,734.6 1661.0,733.8 1661.5,734.6 1662.0,733.4 1662.5,734.7 1663.0,734.0 1663.5,732.0 1664.0,732.5 1664.5,731.7 1665.0,731.1 1665.5,731.5 1666.0,730.4 1666.5,729.7 1667.0,731.6 1667.5,731.9 1668.0,731.1 1668.5,733.5 1669.0,732.4 1669.5,733.3 1670.0,731.6 1670.5,732.2 1671.0,732.2 1671.5,735.7 1672.0,734.6 1672.5,732.6 1673.0,730.9 1673.5,731.4 1674.0,733.0 1674.5,733.6 1675.0,731.2 1675.5,734.7 1676.0,732.1 1676.5,731.5 1677.0,731.7 1677.5,731.0 1678.0,731.6 1678.5,733.5 1679.0,732.4 1679.5,733.9 1680.0,731.3 1680.5,733.9 1681.0,731.3 1681.5,731.9 1682.0,734.3 1682.5,733.3 1683.0,733.1 1683.5,732.7 1684.0,731.8 1684.5,733.0 1685.0,732.1 1685.5,733.3 1686.0,732.6 1686.5,733.4 1687.0,732.9 1687.5,732.4 1688.0,728.9 1688.5,728.2 1689.0,729.5 1689.5,731.6 1690.0,730.0" fill="none" stroke="#f8520a" stroke-width="4.6" stroke-linejoin="round" stroke-linecap="butt" />
<polyline points="1690.0,732.0 1692.0,739.0 1694.5,741.0 1695.4,745.0 1695.4,875.0" fill="none" stroke="#f8520a" stroke-width="1.2" stroke-linejoin="round" stroke-linecap="butt" />
<polyline points="1694.8,877.2 1701.0,877.4" fill="none" stroke="#f8520a" stroke-width="6.0" stroke-linejoin="round" stroke-linecap="butt" />
</g>
<g stroke="#1c1c1c" fill="none">
<path d="M181,1027.9 H1703" stroke-width="2.6"/>
<path d="M372.6,1027.9 V1012.1000000000001" stroke-width="2.3"/>
<path d="M562.5,1027.9 V1012.1000000000001" stroke-width="2.3"/>
<path d="M752.4,1027.9 V1012.1000000000001" stroke-width="2.3"/>
<path d="M942.3,1027.9 V1012.1000000000001" stroke-width="2.3"/>
<path d="M1132.2,1027.9 V1012.1000000000001" stroke-width="2.3"/>
<path d="M1322.1,1027.9 V1012.1000000000001" stroke-width="2.3"/>
<path d="M1512.0,1027.9 V1012.1000000000001" stroke-width="2.3"/>
</g>
<text x="170.41" y="1084.3" font-size="48.87" fill="#1c1c1c" stroke="#1c1c1c" stroke-width="0.2" stroke-linejoin="round" textLength="24.59" lengthAdjust="spacingAndGlyphs">0</text>
<text x="359.16" y="1084.3" font-size="48.87" fill="#1c1c1c" stroke="#1c1c1c" stroke-width="0.2" stroke-linejoin="round" textLength="25.96" lengthAdjust="spacingAndGlyphs">5</text>
<text x="538.57" y="1084.3" font-size="48.87" fill="#1c1c1c" stroke="#1c1c1c" stroke-width="0.2" stroke-linejoin="round" textLength="48.34" lengthAdjust="spacingAndGlyphs">10</text>
<text x="728.46" y="1084.3" font-size="48.87" fill="#1c1c1c" stroke="#1c1c1c" stroke-width="0.2" stroke-linejoin="round" textLength="48.48" lengthAdjust="spacingAndGlyphs">15</text>
<text x="917.61" y="1084.3" font-size="48.87" fill="#1c1c1c" stroke="#1c1c1c" stroke-width="0.2" stroke-linejoin="round" textLength="49.13" lengthAdjust="spacingAndGlyphs">20</text>
<text x="1107.51" y="1084.3" font-size="48.87" fill="#1c1c1c" stroke="#1c1c1c" stroke-width="0.2" stroke-linejoin="round" textLength="49.26" lengthAdjust="spacingAndGlyphs">25</text>
<text x="1297.15" y="1084.3" font-size="48.87" fill="#1c1c1c" stroke="#1c1c1c" stroke-width="0.2" stroke-linejoin="round" textLength="49.4" lengthAdjust="spacingAndGlyphs">30</text>
<text x="1487.05" y="1084.3" font-size="48.87" fill="#1c1c1c" stroke="#1c1c1c" stroke-width="0.2" stroke-linejoin="round" textLength="49.53" lengthAdjust="spacingAndGlyphs">35</text>
<text x="1678.34" y="1084.3" font-size="48.87" fill="#1c1c1c" stroke="#1c1c1c" stroke-width="0.2" stroke-linejoin="round" textLength="47.96" lengthAdjust="spacingAndGlyphs">40</text>
<g stroke="#005fa3" stroke-width="3.1" fill="none">
<path d="M182.8,122.9 V1029.4"/>
<path d="M182.8,124.4 H198.9"/>
<path d="M182.8,237.3 H198.9"/>
<path d="M182.8,350.3 H198.9"/>
<path d="M182.8,463.2 H198.9"/>
<path d="M182.8,576.2 H198.9"/>
<path d="M182.8,689.1 H198.9"/>
<path d="M182.8,802.0 H198.9"/>
<path d="M182.8,915.0 H198.9"/>
<path d="M182.8,1027.9 H198.9"/>
</g>
<text x="121.97" y="134.9" font-size="48.87" fill="#005fa3" stroke="#005fa3" stroke-width="0.2" stroke-linejoin="round" textLength="48.34" lengthAdjust="spacingAndGlyphs">10</text>
<text x="145.76" y="247.84" font-size="48.87" fill="#005fa3" stroke="#005fa3" stroke-width="0.2" stroke-linejoin="round" textLength="24.59" lengthAdjust="spacingAndGlyphs">8</text>
<text x="145.52" y="360.78" font-size="48.87" fill="#005fa3" stroke="#005fa3" stroke-width="0.2" stroke-linejoin="round" textLength="24.44" lengthAdjust="spacingAndGlyphs">6</text>
<text x="146.7" y="473.72" font-size="48.87" fill="#005fa3" stroke="#005fa3" stroke-width="0.2" stroke-linejoin="round" textLength="22.47" lengthAdjust="spacingAndGlyphs">4</text>
<text x="145.39" y="586.66" font-size="48.87" fill="#005fa3" stroke="#005fa3" stroke-width="0.2" stroke-linejoin="round" textLength="25.96" lengthAdjust="spacingAndGlyphs">2</text>
<text x="145.76" y="699.6" font-size="48.87" fill="#005fa3" stroke="#005fa3" stroke-width="0.2" stroke-linejoin="round" textLength="24.59" lengthAdjust="spacingAndGlyphs">0</text>
<text x="131.41" y="812.54" font-size="48.87" fill="#005fa3" stroke="#005fa3" stroke-width="0.2" stroke-linejoin="round" textLength="39.74" lengthAdjust="spacingAndGlyphs">-2</text>
<text x="131.5" y="925.48" font-size="48.87" fill="#005fa3" stroke="#005fa3" stroke-width="0.2" stroke-linejoin="round" textLength="37.7" lengthAdjust="spacingAndGlyphs">-4</text>
<text x="131.47" y="1038.42" font-size="48.87" fill="#005fa3" stroke="#005fa3" stroke-width="0.2" stroke-linejoin="round" textLength="38.44" lengthAdjust="spacingAndGlyphs">-6</text>
<g stroke="#f8520a" stroke-width="3" fill="none">
<path d="M1702.2,122.9 V1029.4"/>
<path d="M1702.2,124.4 H1685.6"/>
<path d="M1702.2,275.0 H1685.6"/>
<path d="M1702.2,425.6 H1685.6"/>
<path d="M1702.2,576.1 H1685.6"/>
<path d="M1702.2,726.7 H1685.6"/>
<path d="M1702.2,877.3 H1685.6"/>
<path d="M1702.2,1027.9 H1685.6"/>
</g>
<text x="1714.25" y="134.9" font-size="48.87" fill="#f8520a" stroke="#f8520a" stroke-width="0.2" stroke-linejoin="round" textLength="72.79" lengthAdjust="spacingAndGlyphs">125</text>
<text x="1714.26" y="285.48" font-size="48.87" fill="#f8520a" stroke="#f8520a" stroke-width="0.2" stroke-linejoin="round" textLength="72.65" lengthAdjust="spacingAndGlyphs">100</text>
<text x="1712.32" y="436.06" font-size="48.87" fill="#f8520a" stroke="#f8520a" stroke-width="0.2" stroke-linejoin="round" textLength="50.5" lengthAdjust="spacingAndGlyphs">75</text>
<text x="1712.73" y="586.64" font-size="48.87" fill="#f8520a" stroke="#f8520a" stroke-width="0.2" stroke-linejoin="round" textLength="49.94" lengthAdjust="spacingAndGlyphs">50</text>
<text x="1713.51" y="737.22" font-size="48.87" fill="#f8520a" stroke="#f8520a" stroke-width="0.2" stroke-linejoin="round" textLength="49.26" lengthAdjust="spacingAndGlyphs">25</text>
<text x="1713.76" y="887.8" font-size="48.87" fill="#f8520a" stroke="#f8520a" stroke-width="0.2" stroke-linejoin="round" textLength="24.59" lengthAdjust="spacingAndGlyphs">0</text>
<text x="1713.82" y="1038.38" font-size="48.87" fill="#f8520a" stroke="#f8520a" stroke-width="0.2" stroke-linejoin="round" textLength="63.3" lengthAdjust="spacingAndGlyphs">-25</text>
<text fill="#005fa3"><tspan x="20.23" y="136.8" font-size="57.1" font-weight="bold" font-style="italic" stroke="#005fa3" stroke-width="0.2" stroke-linejoin="round" textLength="20.76" lengthAdjust="spacingAndGlyphs">I</tspan><tspan x="44.1" y="132.22" font-size="50.25" font-weight="bold" stroke="#005fa3" stroke-width="0.2" stroke-linejoin="round" textLength="14.87" lengthAdjust="spacingAndGlyphs">(</tspan><tspan x="60.43" y="136.8" font-size="56.67" font-weight="bold" stroke="#005fa3" stroke-width="0.2" stroke-linejoin="round" textLength="41.08" lengthAdjust="spacingAndGlyphs">A</tspan><tspan x="102.95" y="132.22" font-size="50.25" font-weight="bold" stroke="#005fa3" stroke-width="0.2" stroke-linejoin="round" textLength="16.94" lengthAdjust="spacingAndGlyphs">)</tspan></text>
<text fill="#f8520a"><tspan x="1787.83" y="136.8" font-size="57.1" font-weight="bold" font-style="italic" stroke="#f8520a" stroke-width="0.2" stroke-linejoin="round" textLength="43.49" lengthAdjust="spacingAndGlyphs">U</tspan><tspan x="1833.04" y="132.22" font-size="50.25" font-weight="bold" stroke="#f8520a" stroke-width="0.2" stroke-linejoin="round" textLength="15.39" lengthAdjust="spacingAndGlyphs">(</tspan><tspan x="1849.81" y="136.8" font-size="57.1" font-weight="bold" stroke="#f8520a" stroke-width="0.2" stroke-linejoin="round" textLength="42.4" lengthAdjust="spacingAndGlyphs">V</tspan><tspan x="1893.35" y="132.22" font-size="50.25" font-weight="bold" stroke="#f8520a" stroke-width="0.2" stroke-linejoin="round" textLength="16.94" lengthAdjust="spacingAndGlyphs">)</tspan></text>
<text fill="#000"><tspan x="1638.5" y="1134.6" font-size="63.54" font-weight="bold" font-style="italic" stroke="#000" stroke-width="0.2" stroke-linejoin="round" textLength="18.56" lengthAdjust="spacingAndGlyphs">t</tspan><tspan x="1659.39" y="1129.65" font-size="50.14" font-weight="bold" stroke="#000" stroke-width="0.2" stroke-linejoin="round" textLength="16.55" lengthAdjust="spacingAndGlyphs">(</tspan><tspan x="1676.68" y="1134.4" font-size="49.57" font-weight="bold" stroke="#000" stroke-width="0.2" stroke-linejoin="round" textLength="24.86" lengthAdjust="spacingAndGlyphs">s</tspan><tspan x="1702.67" y="1129.65" font-size="50.14" font-weight="bold" stroke="#000" stroke-width="0.2" stroke-linejoin="round" textLength="15.65" lengthAdjust="spacingAndGlyphs">)</tspan></text>
<g stroke="#000" stroke-width="3.1" fill="none">
<path d="M334.6,89 V156.8"/>
<path d="M412.2,89 V156.8"/>
<path d="M488.5,89 V156.8"/>
<path d="M561.3,89 V156.8"/>
<path d="M337.6,106.5 H409.2" marker-start="url(#ah)" marker-end="url(#ah)"/>
<path d="M415.2,106.5 H485.5" marker-start="url(#ah)" marker-end="url(#ah)"/>
<path d="M491.5,106.5 H558.3" marker-start="url(#ah)" marker-end="url(#ah)"/>
</g>
<text x="361.84" y="77.6" font-size="68.47" fill="#000" stroke="#000" stroke-width="0.25" stroke-linejoin="round" textLength="23.85" lengthAdjust="spacingAndGlyphs">I</text>
<text x="428.84" y="77.6" font-size="68.47" fill="#000" stroke="#000" stroke-width="0.25" stroke-linejoin="round" textLength="45.89" lengthAdjust="spacingAndGlyphs">II</text>
<text x="495.3" y="77.6" font-size="68.47" fill="#000" stroke="#000" stroke-width="0.25" stroke-linejoin="round" textLength="67.1" lengthAdjust="spacingAndGlyphs">III</text>
<text fill="#000"><tspan x="318.79" y="220.9" font-size="76.28" font-style="italic" stroke="#000" stroke-width="0.3" stroke-linejoin="round" textLength="19.81" lengthAdjust="spacingAndGlyphs">t</tspan><tspan x="341.25" y="221.0" font-size="43.46" stroke="#000" stroke-width="0.2" stroke-linejoin="round" textLength="22.0" lengthAdjust="spacingAndGlyphs">0</tspan></text>
<text fill="#000"><tspan x="411.26" y="220.9" font-size="76.28" font-style="italic" stroke="#000" stroke-width="0.3" stroke-linejoin="round" textLength="19.37" lengthAdjust="spacingAndGlyphs">t</tspan><tspan x="433.47" y="220.9" font-size="39.36" stroke="#000" stroke-width="0.2" stroke-linejoin="round" textLength="36.25" lengthAdjust="spacingAndGlyphs">m</tspan></text>
<path d="M340.5,243.6 V267.8 M340.5,285.2 V309.4 M340.5,326.8 V351.0 M340.5,380.8 V405.0 M340.5,422.2 V446.4 M340.5,463.7 V487.9 M340.5,505.1 V529.4 M340.5,546.6 V570.8 M340.5,588.0 V612.2 M340.5,629.5 V653.7 M340.5,671.0 V695.2 M340.5,712.4 V736.6 M340.5,753.9 V756.6 M340.5,773.7 V797.9 M340.5,815.3 V839.5 M340.5,856.9 V881.1 M340.5,898.5 V922.7 M340.5,940.1 V964.3 M340.5,981.7 V1005.9 M340.5,1023.3 V1025.6 M440.7,243.6 V267.8 M440.7,285.0 V309.2 M440.7,326.4 V350.6 M440.7,367.8 V392.0 M440.7,409.2 V433.4 M440.7,450.6 V456.6 M440.7,469.7 V493.9 M440.7,511.1 V535.3 M440.7,552.5 V576.7 M440.7,593.9 V618.1 M440.7,649.9 V674.1 M440.7,691.4 V715.6 M440.7,732.9 V757.1 M440.7,774.4 V798.6 M440.7,815.9 V840.1 M440.7,857.4 V881.6 M440.7,898.9 V923.1 M440.7,940.4 V964.6 M440.7,981.9 V1006.1 M440.7,1023.4 V1025.6 " stroke="#000" stroke-width="3.2" stroke-linecap="round" fill="none"/>
<text fill="#000"><tspan x="717.08" y="165" font-size="50.0" stroke="#000" stroke-width="0.25" stroke-linejoin="round" textLength="224.07" lengthAdjust="spacingAndGlyphs">Interval of</tspan> <tspan x="963.63" y="165" font-size="49.39" stroke="#000" stroke-width="0.25" stroke-linejoin="round" textLength="134.58" lengthAdjust="spacingAndGlyphs">MPPT</tspan> <tspan x="836.92" y="223.5" font-size="51.09" stroke="#000" stroke-width="0.25" stroke-linejoin="round" textLength="143.28" lengthAdjust="spacingAndGlyphs">Action</tspan></text>
<g stroke="#000" stroke-width="3.1" fill="none">
<path d="M869,241.4 V402"/><path d="M947.3,241.4 V402"/>
<path d="M872,282.3 H944.3" marker-start="url(#ah)" marker-end="url(#ah)"/>
</g>
<g stroke="#e10000" stroke-width="3" fill="none">
<path d="M563,420.3 H715" stroke-dasharray="13.5 7.5"/>
<path d="M637,393.7 H715" stroke-dasharray="13.5 7.5"/>
<path d="M677.5,350 V380"/><path d="M677.5,434 V463"/>
</g>
<path d="M677.5,392.6 L669.4,376.6 H685.6 Z M677.5,421.6 L669.4,436.6 H685.6 Z" fill="#e10000"/>
<text x="697.53" y="487.8" font-size="47.62" fill="#e10000" stroke="#e10000" stroke-width="0.25" stroke-linejoin="round" textLength="339.97" lengthAdjust="spacingAndGlyphs">MPPT Step Size</text>
<text fill="#e10000"><tspan x="206.75" y="401.2" font-size="71.3" font-weight="bold" font-style="italic" stroke="#e10000" stroke-width="0.2" stroke-linejoin="round" textLength="25.13" lengthAdjust="spacingAndGlyphs">I</tspan><tspan x="232.46" y="401.2" font-size="41.13" font-weight="bold" stroke="#e10000" stroke-width="0.15" stroke-linejoin="round" textLength="94.07" lengthAdjust="spacingAndGlyphs">arc_0</tspan></text>
<text fill="#e10000"><tspan x="445.85" y="533.5" font-size="70.53" font-weight="bold" font-style="italic" stroke="#e10000" stroke-width="0.2" stroke-linejoin="round" textLength="25.13" lengthAdjust="spacingAndGlyphs">I</tspan><tspan x="471.54" y="533.5" font-size="45.0" font-weight="bold" stroke="#e10000" stroke-width="0.15" stroke-linejoin="round" textLength="108.92" lengthAdjust="spacingAndGlyphs">arc_m</tspan></text>
<text fill="#e10000"><tspan x="1179.95" y="292.9" font-size="71.76" font-weight="bold" font-style="italic" stroke="#e10000" stroke-width="0.2" stroke-linejoin="round" textLength="25.13" lengthAdjust="spacingAndGlyphs">I</tspan><tspan x="1205.29" y="292.9" font-size="42.48" font-weight="bold" stroke="#e10000" stroke-width="0.15" stroke-linejoin="round" textLength="127.16" lengthAdjust="spacingAndGlyphs">arc_fin</tspan></text>
<text fill="#00800a"><tspan x="184.07" y="744.9" font-size="71.6" font-weight="bold" font-style="italic" stroke="#00800a" stroke-width="0.2" stroke-linejoin="round" textLength="52.8" lengthAdjust="spacingAndGlyphs">U</tspan><tspan x="237.25" y="744.9" font-size="41.58" font-weight="bold" stroke="#00800a" stroke-width="0.15" stroke-linejoin="round" textLength="94.48" lengthAdjust="spacingAndGlyphs">arc_0</tspan></text>
<text fill="#00800a"><tspan x="445.91" y="719.6" font-size="70.84" font-weight="bold" font-style="italic" stroke="#00800a" stroke-width="0.2" stroke-linejoin="round" textLength="53.33" lengthAdjust="spacingAndGlyphs">U</tspan><tspan x="499.14" y="719.6" font-size="44.36" font-weight="bold" stroke="#00800a" stroke-width="0.15" stroke-linejoin="round" textLength="109.33" lengthAdjust="spacingAndGlyphs">arc_m</tspan></text>
<text fill="#00800a"><tspan x="1509.1" y="710.7" font-size="70.99" font-weight="bold" font-style="italic" stroke="#00800a" stroke-width="0.2" stroke-linejoin="round" textLength="53.44" lengthAdjust="spacingAndGlyphs">U</tspan><tspan x="1561.78" y="710.7" font-size="41.77" font-weight="bold" stroke="#00800a" stroke-width="0.15" stroke-linejoin="round" textLength="127.97" lengthAdjust="spacingAndGlyphs">arc_fin</tspan></text>
<text x="1173.06" y="387.2" font-size="64.38" fill="#000" stroke="#000" stroke-width="0.25" stroke-linejoin="round" textLength="332.53" lengthAdjust="spacingAndGlyphs">Arc Current</text>
<text x="1174.46" y="796.8" font-size="64.1" fill="#000" stroke="#000" stroke-width="0.25" stroke-linejoin="round" textLength="330.16" lengthAdjust="spacingAndGlyphs">Arc Voltage</text>
<circle cx="340.6" cy="363.3" r="9.4" fill="#e10000"/>
<circle cx="440.7" cy="458.4" r="9.4" fill="#e10000"/>
<circle cx="1190.6" cy="319.6" r="9.4" fill="#e10000"/>
<ellipse cx="340.6" cy="758.5" rx="9.3" ry="8.6" fill="#006e12" stroke="#0a8a1c" stroke-width="1.2"/>
<ellipse cx="440.7" cy="633.5" rx="9.3" ry="8.8" fill="#006e12" stroke="#0a8a1c" stroke-width="1.2"/>
<ellipse cx="1675.5" cy="732" rx="9.3" ry="9.2" fill="#006e12" stroke="#0a8a1c" stroke-width="1.2"/>
<text fill="#000"><tspan x="754.46" y="1015.2" font-size="69.91" font-style="italic" stroke="#000" stroke-width="0.3" stroke-linejoin="round" textLength="18.16" lengthAdjust="spacingAndGlyphs">t</tspan><tspan x="774.67" y="1015.0" font-size="35.96" stroke="#000" stroke-width="0.2" stroke-linejoin="round" textLength="32.16" lengthAdjust="spacingAndGlyphs">m</tspan><tspan x="804.96" y="1016.99" font-size="63.87" stroke="#000" stroke-width="0.2" stroke-linejoin="round" textLength="35.42" lengthAdjust="spacingAndGlyphs">+</tspan><tspan x="836.88" y="1015.5" font-size="51.13" stroke="#000" stroke-width="0.2" stroke-linejoin="round" textLength="50.51" lengthAdjust="spacingAndGlyphs">10</tspan></text>
<text fill="#000"><tspan x="1134.36" y="1015.2" font-size="69.91" font-style="italic" stroke="#000" stroke-width="0.3" stroke-linejoin="round" textLength="18.16" lengthAdjust="spacingAndGlyphs">t</tspan><tspan x="1154.57" y="1015.0" font-size="35.96" stroke="#000" stroke-width="0.2" stroke-linejoin="round" textLength="32.16" lengthAdjust="spacingAndGlyphs">m</tspan><tspan x="1184.86" y="1016.99" font-size="63.87" stroke="#000" stroke-width="0.2" stroke-linejoin="round" textLength="35.42" lengthAdjust="spacingAndGlyphs">+</tspan><tspan x="1217.59" y="1015.5" font-size="51.13" stroke="#000" stroke-width="0.2" stroke-linejoin="round" textLength="49.67" lengthAdjust="spacingAndGlyphs">20</tspan></text>
<text fill="#000"><tspan x="1514.26" y="1015.2" font-size="69.91" font-style="italic" stroke="#000" stroke-width="0.3" stroke-linejoin="round" textLength="18.16" lengthAdjust="spacingAndGlyphs">t</tspan><tspan x="1534.47" y="1015.0" font-size="35.96" stroke="#000" stroke-width="0.2" stroke-linejoin="round" textLength="32.16" lengthAdjust="spacingAndGlyphs">m</tspan><tspan x="1564.76" y="1016.99" font-size="63.87" stroke="#000" stroke-width="0.2" stroke-linejoin="round" textLength="35.42" lengthAdjust="spacingAndGlyphs">+</tspan><tspan x="1597.23" y="1015.5" font-size="51.13" stroke="#000" stroke-width="0.2" stroke-linejoin="round" textLength="49.95" lengthAdjust="spacingAndGlyphs">30</tspan></text>
<g stroke="#000" stroke-width="3.4" fill="none">
<path d="M440.4,1046 V1176.5"/>
<path d="M820.4,1046 V1176.5"/>
<path d="M1200.3,1046 V1176.5"/>
<path d="M1580.7,1046 V1176.5"/>
</g>
<path d="M440.4,1028.8 L430.9,1047.8 H449.9 Z" fill="#000"/>
<path d="M820.4,1028.8 L810.9,1047.8 H829.9 Z" fill="#000"/>
<path d="M1200.3,1028.8 L1190.8,1047.8 H1209.8 Z" fill="#000"/>
<path d="M1580.7,1028.8 L1571.2,1047.8 H1590.2 Z" fill="#000"/>
<defs>
<filter id="bl6" x="-50%" y="-50%" width="200%" height="200%"><feGaussianBlur stdDeviation="5"/></filter>
<filter id="bl3" x="-50%" y="-50%" width="200%" height="200%"><feGaussianBlur stdDeviation="2.6"/></filter>
<filter id="bl12" x="-50%" y="-50%" width="200%" height="200%"><feGaussianBlur stdDeviation="12"/></filter>
<filter id="bl20" x="-50%" y="-50%" width="200%" height="200%"><feGaussianBlur stdDeviation="20"/></filter>
<linearGradient id="sl0" gradientUnits="userSpaceOnUse" x1="284.2" y1="0" x2="409.8" y2="0"><stop offset="0" stop-color="#000" stop-opacity="0.30"/><stop offset="0.45" stop-color="#000" stop-opacity="0.22"/><stop offset="0.85" stop-color="#000" stop-opacity="0"/></linearGradient>
<linearGradient id="sr0" gradientUnits="userSpaceOnUse" x1="438.8" y1="0" x2="597.6" y2="0"><stop offset="0.15" stop-color="#000" stop-opacity="0"/><stop offset="0.5" stop-color="#000" stop-opacity="0.24"/><stop offset="1" stop-color="#000" stop-opacity="0.34"/></linearGradient>
<clipPath id="pc0"><rect x="284.2" y="1176" width="313.4" height="231.8"/></clipPath>
<radialGradient id="pg0" gradientUnits="userSpaceOnUse" cx="404.3" cy="1291.6" r="235" gradientTransform="translate(0 322.9) scale(1 0.75)"><stop offset="0" stop-color="#24800e"/><stop offset="0.5" stop-color="#185206"/><stop offset="1" stop-color="#0f3503"/></radialGradient>
<linearGradient id="sl1" gradientUnits="userSpaceOnUse" x1="663.6" y1="0" x2="793.4" y2="0"><stop offset="0" stop-color="#000" stop-opacity="0.30"/><stop offset="0.45" stop-color="#000" stop-opacity="0.22"/><stop offset="0.85" stop-color="#000" stop-opacity="0"/></linearGradient>
<linearGradient id="sr1" gradientUnits="userSpaceOnUse" x1="815.5" y1="0" x2="977.3" y2="0"><stop offset="0.15" stop-color="#000" stop-opacity="0"/><stop offset="0.5" stop-color="#000" stop-opacity="0.24"/><stop offset="1" stop-color="#000" stop-opacity="0.34"/></linearGradient>
<clipPath id="pc1"><rect x="663.6" y="1176" width="313.7" height="231.8"/></clipPath>
<radialGradient id="pg1" gradientUnits="userSpaceOnUse" cx="784.3" cy="1293.4" r="235" gradientTransform="translate(0 323.4) scale(1 0.75)"><stop offset="0" stop-color="#14a82c"/><stop offset="0.5" stop-color="#07660a"/><stop offset="1" stop-color="#0e4a06"/></radialGradient>
<linearGradient id="sl2" gradientUnits="userSpaceOnUse" x1="1043.6" y1="0" x2="1176.7" y2="0"><stop offset="0" stop-color="#000" stop-opacity="0.30"/><stop offset="0.45" stop-color="#000" stop-opacity="0.22"/><stop offset="0.85" stop-color="#000" stop-opacity="0"/></linearGradient>
<linearGradient id="sr2" gradientUnits="userSpaceOnUse" x1="1194.8" y1="0" x2="1357.3" y2="0"><stop offset="0.15" stop-color="#000" stop-opacity="0"/><stop offset="0.5" stop-color="#000" stop-opacity="0.24"/><stop offset="1" stop-color="#000" stop-opacity="0.34"/></linearGradient>
<clipPath id="pc2"><rect x="1043.6" y="1176" width="313.7" height="231.8"/></clipPath>
<radialGradient id="pg2" gradientUnits="userSpaceOnUse" cx="1165.7" cy="1299.8" r="235" gradientTransform="translate(0 324.9) scale(1 0.75)"><stop offset="0" stop-color="#3a8012"/><stop offset="0.5" stop-color="#2c5c07"/><stop offset="1" stop-color="#1e4204"/></radialGradient>
<linearGradient id="sl3" gradientUnits="userSpaceOnUse" x1="1423" y1="0" x2="1559.6" y2="0"><stop offset="0" stop-color="#000" stop-opacity="0.30"/><stop offset="0.45" stop-color="#000" stop-opacity="0.22"/><stop offset="0.85" stop-color="#000" stop-opacity="0"/></linearGradient>
<linearGradient id="sr3" gradientUnits="userSpaceOnUse" x1="1574.8" y1="0" x2="1737.6" y2="0"><stop offset="0.15" stop-color="#000" stop-opacity="0"/><stop offset="0.5" stop-color="#000" stop-opacity="0.24"/><stop offset="1" stop-color="#000" stop-opacity="0.34"/></linearGradient>
<clipPath id="pc3"><rect x="1423" y="1176" width="314.6" height="231.8"/></clipPath>
<radialGradient id="pg3" gradientUnits="userSpaceOnUse" cx="1547" cy="1304.3" r="235" gradientTransform="translate(0 326.1) scale(1 0.75)"><stop offset="0" stop-color="#3a6a10"/><stop offset="0.5" stop-color="#2d4807"/><stop offset="1" stop-color="#203205"/></radialGradient>
</defs>
<g clip-path="url(#pc0)">
<rect x="284.2" y="1176" width="313.4" height="231.8" fill="url(#pg0)"/>
<rect x="284.2" y="1277.6" width="125.6" height="36.7" fill="url(#sl0)"/>
<rect x="438.8" y="1277.6" width="158.8" height="36.7" fill="url(#sr0)"/>
<ellipse cx="424.3" cy="1291.6" rx="190" ry="12" fill="#35b035" opacity="0.45" filter="url(#bl12)" transform="rotate(-13 424.3 1291.6)"/>
<ellipse cx="384.3" cy="1297.6" rx="110" ry="40" fill="#2a9a14" opacity="0.30" filter="url(#bl20)"/>
<ellipse cx="430.3" cy="1293.6" rx="38" ry="26" fill="#10d040" opacity="0.85" filter="url(#bl12)"/>
<ellipse cx="424.3" cy="1287.6" rx="12" ry="24" fill="#f0f030" opacity="0.95" filter="url(#bl6)"/>
<ellipse cx="424.3" cy="1292.6" rx="10" ry="11.5" fill="#ffffff" filter="url(#bl3)"/>
<g stroke="#fff" stroke-width="2.7" fill="none">
<path d="M282.2,1277.6 H409.8 M282.2,1314.3 H409.8 M438.8,1277.6 H599.6 M438.8,1314.3 H599.6"/>
<path d="M409.8,1229.5 V1315.6 M438.8,1229.5 V1315.6"/>
<path d="M403.8,1314.3 L409.8,1306.8 M384.5,1314.3 L409.8,1282.7 M365.2,1314.3 L394.6,1277.6 M345.9,1314.3 L375.3,1277.6 M326.6,1314.3 L356.0,1277.6 M307.3,1314.3 L336.7,1277.6 M288.0,1314.3 L317.4,1277.6 M268.7,1314.3 L298.1,1277.6 M249.4,1314.3 L278.8,1277.6 M230.1,1314.3 L259.5,1277.6 M444.8,1314.3 L438.8,1306.8 M463.8,1314.3 L438.8,1283.0 M482.8,1314.3 L453.4,1277.6 M501.8,1314.3 L472.4,1277.6 M520.8,1314.3 L491.4,1277.6 M539.8,1314.3 L510.4,1277.6 M558.8,1314.3 L529.4,1277.6 M577.8,1314.3 L548.4,1277.6 M596.8,1314.3 L567.4,1277.6 M615.8,1314.3 L586.4,1277.6 M634.8,1314.3 L605.4,1277.6 M653.8,1314.3 L624.4,1277.6 " stroke-width="2.5"/>
<path d="M359.3,1239.5 H395.8 M490,1239.5 H452.8" stroke-width="2.8"/>
</g>
<path d="M408.8,1239.5 l-15.5,-8.2 v16.4 Z M439.8,1239.5 l15.5,-8.2 v16.4 Z" fill="#fff"/>
<text x="398.11" y="1211.7" font-size="40.75" fill="#fff" stroke="#fff" stroke-width="0.2" stroke-linejoin="round" textLength="78.63" lengthAdjust="spacingAndGlyphs">Gap</text>
<text x="421.48" y="1359.7" font-size="41.58" fill="#fff" stroke="#fff" stroke-width="0.2" stroke-linejoin="round" textLength="170.22" lengthAdjust="spacingAndGlyphs">Electrode</text>
</g>
<g clip-path="url(#pc1)">
<rect x="663.6" y="1176" width="313.7" height="231.8" fill="url(#pg1)"/>
<rect x="663.6" y="1275.8" width="129.8" height="35.8" fill="url(#sl1)"/>
<rect x="815.5" y="1275.8" width="161.8" height="35.8" fill="url(#sr1)"/>
<ellipse cx="804.3" cy="1293.4" rx="230" ry="17" fill="#38e058" opacity="0.62" filter="url(#bl12)" transform="rotate(-17 804.3 1293.4)"/>
<ellipse cx="804.3" cy="1293.4" rx="150" ry="26" fill="#25c040" opacity="0.45" filter="url(#bl12)"/>
<ellipse cx="804.3" cy="1297.4" rx="60" ry="50" fill="#18e848" opacity="0.9" filter="url(#bl12)"/>
<ellipse cx="804.3" cy="1293.4" rx="20" ry="22" fill="#d8ffb0" opacity="0.95" filter="url(#bl6)"/>
<ellipse cx="804.3" cy="1293.4" rx="11.5" ry="12" fill="#ffffff" filter="url(#bl3)"/>
<g stroke="#fff" stroke-width="2.7" fill="none">
<path d="M661.6,1275.8 H793.4 M661.6,1311.6 H793.4 M815.5,1275.8 H979.3 M815.5,1311.6 H979.3"/>
<path d="M793.4,1229.5 V1312.8999999999999 M815.5,1229.5 V1312.8999999999999"/>
<path d="M787.4,1311.6 L793.4,1304.1 M768.1,1311.6 L793.4,1280.0 M748.8,1311.6 L777.4,1275.8 M729.5,1311.6 L758.1,1275.8 M710.2,1311.6 L738.8,1275.8 M690.9,1311.6 L719.5,1275.8 M671.6,1311.6 L700.2,1275.8 M652.3,1311.6 L680.9,1275.8 M633.0,1311.6 L661.6,1275.8 M613.7,1311.6 L642.3,1275.8 M821.5,1311.6 L815.5,1304.1 M840.5,1311.6 L815.5,1280.3 M859.5,1311.6 L830.9,1275.8 M878.5,1311.6 L849.9,1275.8 M897.5,1311.6 L868.9,1275.8 M916.5,1311.6 L887.9,1275.8 M935.5,1311.6 L906.9,1275.8 M954.5,1311.6 L925.9,1275.8 M973.5,1311.6 L944.9,1275.8 M992.5,1311.6 L963.9,1275.8 M1011.5,1311.6 L982.9,1275.8 M1030.5,1311.6 L1001.9,1275.8 " stroke-width="2.5"/>
<path d="M742.6,1239.5 H779.4 M866.9,1239.5 H829.5" stroke-width="2.8"/>
</g>
<path d="M792.4,1239.5 l-15.5,-8.2 v16.4 Z M816.5,1239.5 l15.5,-8.2 v16.4 Z" fill="#fff"/>
<text x="775.31" y="1211.7" font-size="40.75" fill="#fff" stroke="#fff" stroke-width="0.2" stroke-linejoin="round" textLength="78.84" lengthAdjust="spacingAndGlyphs">Gap</text>
<text x="798.17" y="1359.7" font-size="41.58" fill="#fff" stroke="#fff" stroke-width="0.2" stroke-linejoin="round" textLength="171.74" lengthAdjust="spacingAndGlyphs">Electrode</text>
</g>
<g clip-path="url(#pc2)">
<rect x="1043.6" y="1176" width="313.7" height="231.8" fill="url(#pg2)"/>
<rect x="1043.6" y="1279.8" width="133.1" height="35.9" fill="url(#sl2)"/>
<rect x="1194.8" y="1279.8" width="162.5" height="35.9" fill="url(#sr2)"/>
<ellipse cx="1185.7" cy="1299.8" rx="210" ry="10" fill="#3cb020" opacity="0.42" filter="url(#bl12)" transform="rotate(-16 1185.7 1299.8)"/>
<ellipse cx="1185.7" cy="1299.8" rx="34" ry="28" fill="#18d030" opacity="0.85" filter="url(#bl12)"/>
<ellipse cx="1185.7" cy="1299.8" rx="7.5" ry="20" fill="#e8f838" opacity="0.95" filter="url(#bl6)"/>
<ellipse cx="1185.7" cy="1297.8" rx="4.8" ry="12" fill="#ffffff" filter="url(#bl3)"/>
<g stroke="#fff" stroke-width="2.7" fill="none">
<path d="M1041.6,1279.8 H1176.7 M1041.6,1315.7 H1176.7 M1194.8,1279.8 H1359.3 M1194.8,1315.7 H1359.3"/>
<path d="M1176.7,1231.3 V1317.0 M1194.8,1231.3 V1317.0"/>
<path d="M1170.7,1315.7 L1176.7,1308.2 M1151.4,1315.7 L1176.7,1284.1 M1132.1,1315.7 L1160.8,1279.8 M1112.8,1315.7 L1141.5,1279.8 M1093.5,1315.7 L1122.2,1279.8 M1074.2,1315.7 L1102.9,1279.8 M1054.9,1315.7 L1083.6,1279.8 M1035.6,1315.7 L1064.3,1279.8 M1016.3,1315.7 L1045.0,1279.8 M997.0,1315.7 L1025.7,1279.8 M977.7,1315.7 L1006.4,1279.8 M1200.8,1315.7 L1194.8,1308.2 M1219.8,1315.7 L1194.8,1284.5 M1238.8,1315.7 L1210.1,1279.8 M1257.8,1315.7 L1229.1,1279.8 M1276.8,1315.7 L1248.1,1279.8 M1295.8,1315.7 L1267.1,1279.8 M1314.8,1315.7 L1286.1,1279.8 M1333.8,1315.7 L1305.1,1279.8 M1352.8,1315.7 L1324.1,1279.8 M1371.8,1315.7 L1343.1,1279.8 M1390.8,1315.7 L1362.1,1279.8 M1409.8,1315.7 L1381.1,1279.8 " stroke-width="2.5"/>
<path d="M1125.3,1241.1 H1162.7 M1246.4,1241.1 H1208.8" stroke-width="2.8"/>
</g>
<path d="M1175.7,1241.1 l-15.5,-8.2 v16.4 Z M1195.8,1241.1 l15.5,-8.2 v16.4 Z" fill="#fff"/>
<text x="1152.61" y="1211.7" font-size="40.75" fill="#fff" stroke="#fff" stroke-width="0.2" stroke-linejoin="round" textLength="78.84" lengthAdjust="spacingAndGlyphs">Gap</text>
<text x="1180.97" y="1361.5" font-size="41.58" fill="#fff" stroke="#fff" stroke-width="0.2" stroke-linejoin="round" textLength="170.73" lengthAdjust="spacingAndGlyphs">Electrode</text>
</g>
<g clip-path="url(#pc3)">
<rect x="1423" y="1176" width="314.6" height="231.8" fill="url(#pg3)"/>
<rect x="1423" y="1285.2" width="136.6" height="36.0" fill="url(#sl3)"/>
<rect x="1574.8" y="1285.2" width="162.8" height="36.0" fill="url(#sr3)"/>
<ellipse cx="1567" cy="1304.3" rx="170" ry="9" fill="#3a9018" opacity="0.28" filter="url(#bl12)" transform="rotate(-16 1567 1304.3)"/>
<ellipse cx="1567" cy="1304.3" rx="30" ry="26" fill="#18c828" opacity="0.8" filter="url(#bl12)"/>
<ellipse cx="1567" cy="1304.3" rx="6.5" ry="18" fill="#e0f838" opacity="0.95" filter="url(#bl6)"/>
<ellipse cx="1567" cy="1302.3" rx="4" ry="11" fill="#ffffff" filter="url(#bl3)"/>
<g stroke="#fff" stroke-width="2.7" fill="none">
<path d="M1421,1285.2 H1559.6 M1421,1321.2 H1559.6 M1574.8,1285.2 H1739.6 M1574.8,1321.2 H1739.6"/>
<path d="M1559.6,1237.5 V1322.5 M1574.8,1237.5 V1322.5"/>
<path d="M1553.6,1321.2 L1559.6,1313.7 M1534.3,1321.2 L1559.6,1289.6 M1515.0,1321.2 L1543.8,1285.2 M1495.7,1321.2 L1524.5,1285.2 M1476.4,1321.2 L1505.2,1285.2 M1457.1,1321.2 L1485.9,1285.2 M1437.8,1321.2 L1466.6,1285.2 M1418.5,1321.2 L1447.3,1285.2 M1399.2,1321.2 L1428.0,1285.2 M1379.9,1321.2 L1408.7,1285.2 M1360.6,1321.2 L1389.4,1285.2 M1580.8,1321.2 L1574.8,1313.7 M1599.8,1321.2 L1574.8,1290.0 M1618.8,1321.2 L1590.0,1285.2 M1637.8,1321.2 L1609.0,1285.2 M1656.8,1321.2 L1628.0,1285.2 M1675.8,1321.2 L1647.0,1285.2 M1694.8,1321.2 L1666.0,1285.2 M1713.8,1321.2 L1685.0,1285.2 M1732.8,1321.2 L1704.0,1285.2 M1751.8,1321.2 L1723.0,1285.2 M1770.8,1321.2 L1742.0,1285.2 M1789.8,1321.2 L1761.0,1285.2 " stroke-width="2.5"/>
<path d="M1507,1245 H1545.6 M1625.5,1245 H1588.8" stroke-width="2.8"/>
</g>
<path d="M1558.6,1245 l-15.5,-8.2 v16.4 Z M1575.8,1245 l15.5,-8.2 v16.4 Z" fill="#fff"/>
<text x="1536.33" y="1211.7" font-size="40.75" fill="#fff" stroke="#fff" stroke-width="0.2" stroke-linejoin="round" textLength="77.78" lengthAdjust="spacingAndGlyphs">Gap</text>
<text x="1559.28" y="1363" font-size="41.58" fill="#fff" stroke="#fff" stroke-width="0.2" stroke-linejoin="round" textLength="170.62" lengthAdjust="spacingAndGlyphs">Electrode</text>
</g>
</svg>
</body></html>
